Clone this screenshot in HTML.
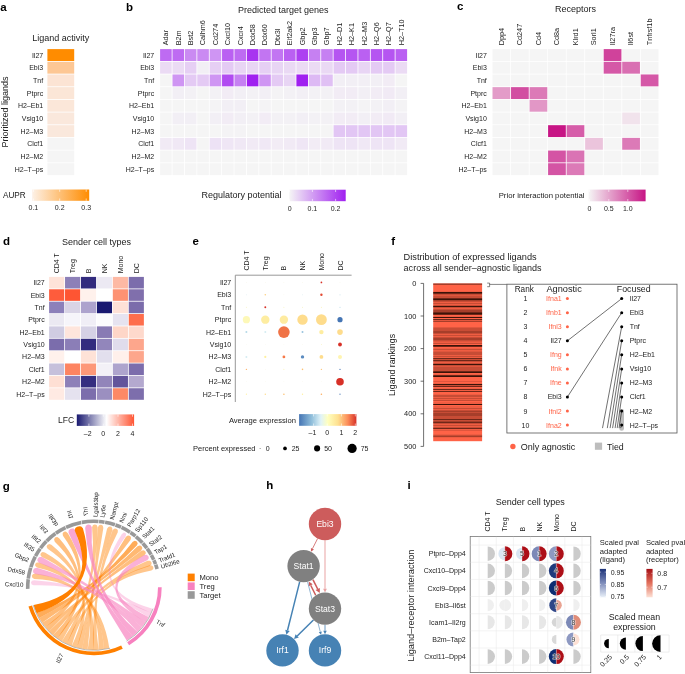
<!DOCTYPE html>
<html><head><meta charset="utf-8"><title>Figure</title>
<style>html,body{margin:0;padding:0;background:#fff}svg{display:block}text{font-family:"Liberation Sans",sans-serif}</style>
</head><body>
<svg width="685" height="674" viewBox="0 0 685 674">
<g fill="#222">
<text x="0.30" y="10.60" font-size="11.5" font-weight="bold" fill="#000">a</text>
<text x="126.00" y="10.60" font-size="11.5" font-weight="bold" fill="#000">b</text>
<text x="457.00" y="10.20" font-size="11.5" font-weight="bold" fill="#000">c</text>
<text x="60.80" y="40.50" font-size="9" text-anchor="middle">Ligand activity</text>
<text x="7.80" y="112.00" font-size="9" text-anchor="middle" transform="rotate(-90.00 7.80 112.00)">Prioritized ligands</text>
<text x="43.20" y="57.54" font-size="7" text-anchor="end">Il27</text>
<rect x="47.40" y="49.10" width="26.80" height="11.88" fill="#ff8c00" />
<text x="43.20" y="70.22" font-size="7" text-anchor="end">Ebi3</text>
<rect x="47.40" y="61.78" width="26.80" height="11.88" fill="#fdc794" />
<text x="43.20" y="82.90" font-size="7" text-anchor="end">Tnf</text>
<rect x="47.40" y="74.46" width="26.80" height="11.88" fill="#fce4d4" />
<text x="43.20" y="95.58" font-size="7" text-anchor="end">Ptprc</text>
<rect x="47.40" y="87.14" width="26.80" height="11.88" fill="#fbe6d7" />
<text x="43.20" y="108.26" font-size="7" text-anchor="end">H2–Eb1</text>
<rect x="47.40" y="99.82" width="26.80" height="11.88" fill="#fbe7d9" />
<text x="43.20" y="120.94" font-size="7" text-anchor="end">Vsig10</text>
<rect x="47.40" y="112.50" width="26.80" height="11.88" fill="#fae8dc" />
<text x="43.20" y="133.62" font-size="7" text-anchor="end">H2–M3</text>
<rect x="47.40" y="125.18" width="26.80" height="11.88" fill="#fae8dc" />
<text x="43.20" y="146.30" font-size="7" text-anchor="end">Clcf1</text>
<rect x="47.40" y="137.86" width="26.80" height="11.88" fill="#f5f5f5" />
<text x="43.20" y="158.98" font-size="7" text-anchor="end">H2–M2</text>
<rect x="47.40" y="150.54" width="26.80" height="11.88" fill="#f5f5f5" />
<text x="43.20" y="171.66" font-size="7" text-anchor="end">H2–T–ps</text>
<rect x="47.40" y="163.22" width="26.80" height="11.88" fill="#f5f5f5" />
<defs><linearGradient id="ga"><stop offset="0" stop-color="#fdf1e6"/><stop offset="1" stop-color="#ff8c00"/></linearGradient><linearGradient id="gb"><stop offset="0" stop-color="#f5f5f5"/><stop offset="1" stop-color="#a020f0"/></linearGradient><linearGradient id="gc"><stop offset="0" stop-color="#f5f5f5"/><stop offset="1" stop-color="#c71585"/></linearGradient></defs>
<text x="3.00" y="197.80" font-size="8.2">AUPR</text>
<rect x="32.20" y="189.50" width="57.00" height="11.30" fill="url(#ga)" />
<path d="M33.4 189.5v2.3M33.4 200.8v-2.3" stroke="#fff" stroke-width="0.6"/>
<text x="33.40" y="210.20" font-size="7" text-anchor="middle">0.1</text>
<path d="M59.7 189.5v2.3M59.7 200.8v-2.3" stroke="#fff" stroke-width="0.6"/>
<text x="59.70" y="210.20" font-size="7" text-anchor="middle">0.2</text>
<path d="M86.2 189.5v2.3M86.2 200.8v-2.3" stroke="#fff" stroke-width="0.6"/>
<text x="86.20" y="210.20" font-size="7" text-anchor="middle">0.3</text>
<text x="283.20" y="13.40" font-size="9" text-anchor="middle">Predicted target genes</text>
<text x="154.20" y="57.54" font-size="7" text-anchor="end">Il27</text>
<rect x="160.10" y="49.10" width="11.59" height="11.88" fill="#be6bf2" />
<rect x="172.49" y="49.10" width="11.59" height="11.88" fill="#be6bf2" />
<rect x="184.88" y="49.10" width="11.59" height="11.88" fill="#ca8af2" />
<rect x="197.27" y="49.10" width="11.59" height="11.88" fill="#ca8af2" />
<rect x="209.66" y="49.10" width="11.59" height="11.88" fill="#cf95f3" />
<rect x="222.05" y="49.10" width="11.59" height="11.88" fill="#ba60f2" />
<rect x="234.44" y="49.10" width="11.59" height="11.88" fill="#be6bf2" />
<rect x="246.83" y="49.10" width="11.59" height="11.88" fill="#a835f0" />
<rect x="259.22" y="49.10" width="11.59" height="11.88" fill="#c275f2" />
<rect x="271.61" y="49.10" width="11.59" height="11.88" fill="#c275f2" />
<rect x="284.00" y="49.10" width="11.59" height="11.88" fill="#ba60f2" />
<rect x="296.39" y="49.10" width="11.59" height="11.88" fill="#ad40f1" />
<rect x="308.78" y="49.10" width="11.59" height="11.88" fill="#c680f2" />
<rect x="321.17" y="49.10" width="11.59" height="11.88" fill="#c680f2" />
<rect x="333.56" y="49.10" width="11.59" height="11.88" fill="#b555f1" />
<rect x="345.95" y="49.10" width="11.59" height="11.88" fill="#b555f1" />
<rect x="358.34" y="49.10" width="11.59" height="11.88" fill="#ba60f2" />
<rect x="370.73" y="49.10" width="11.59" height="11.88" fill="#b555f1" />
<rect x="383.12" y="49.10" width="11.59" height="11.88" fill="#b555f1" />
<rect x="395.51" y="49.10" width="11.59" height="11.88" fill="#ba60f2" />
<text x="154.20" y="70.22" font-size="7" text-anchor="end">Ebi3</text>
<rect x="160.10" y="61.78" width="11.59" height="11.88" fill="#ebdbf4" />
<rect x="172.49" y="61.78" width="11.59" height="11.88" fill="#ebdbf4" />
<rect x="184.88" y="61.78" width="11.59" height="11.88" fill="#e6cff4" />
<rect x="197.27" y="61.78" width="11.59" height="11.88" fill="#f2eff5" />
<rect x="209.66" y="61.78" width="11.59" height="11.88" fill="#e6cff4" />
<rect x="222.05" y="61.78" width="11.59" height="11.88" fill="#e4caf4" />
<rect x="234.44" y="61.78" width="11.59" height="11.88" fill="#e8d5f4" />
<rect x="246.83" y="61.78" width="11.59" height="11.88" fill="#e8d5f4" />
<rect x="259.22" y="61.78" width="11.59" height="11.88" fill="#e6cff4" />
<rect x="271.61" y="61.78" width="11.59" height="11.88" fill="#e8d5f4" />
<rect x="284.00" y="61.78" width="11.59" height="11.88" fill="#ead9f4" />
<rect x="296.39" y="61.78" width="11.59" height="11.88" fill="#ebdbf4" />
<rect x="308.78" y="61.78" width="11.59" height="11.88" fill="#ebdbf4" />
<rect x="321.17" y="61.78" width="11.59" height="11.88" fill="#ead9f4" />
<rect x="333.56" y="61.78" width="11.59" height="11.88" fill="#e4caf4" />
<rect x="345.95" y="61.78" width="11.59" height="11.88" fill="#e4caf4" />
<rect x="358.34" y="61.78" width="11.59" height="11.88" fill="#e8d5f4" />
<rect x="370.73" y="61.78" width="11.59" height="11.88" fill="#e4caf4" />
<rect x="383.12" y="61.78" width="11.59" height="11.88" fill="#e4caf4" />
<rect x="395.51" y="61.78" width="11.59" height="11.88" fill="#ebdbf4" />
<text x="154.20" y="82.90" font-size="7" text-anchor="end">Tnf</text>
<rect x="160.10" y="74.46" width="11.59" height="11.88" fill="#f5f5f5" />
<rect x="172.49" y="74.46" width="11.59" height="11.88" fill="#cf95f3" />
<rect x="184.88" y="74.46" width="11.59" height="11.88" fill="#e4caf4" />
<rect x="197.27" y="74.46" width="11.59" height="11.88" fill="#e4caf4" />
<rect x="209.66" y="74.46" width="11.59" height="11.88" fill="#cf95f3" />
<rect x="222.05" y="74.46" width="11.59" height="11.88" fill="#b14bf1" />
<rect x="234.44" y="74.46" width="11.59" height="11.88" fill="#c680f2" />
<rect x="246.83" y="74.46" width="11.59" height="11.88" fill="#a020f0" />
<rect x="259.22" y="74.46" width="11.59" height="11.88" fill="#cf95f3" />
<rect x="271.61" y="74.46" width="11.59" height="11.88" fill="#e4caf4" />
<rect x="284.00" y="74.46" width="11.59" height="11.88" fill="#e8d5f4" />
<rect x="296.39" y="74.46" width="11.59" height="11.88" fill="#a020f0" />
<rect x="308.78" y="74.46" width="11.59" height="11.88" fill="#ddb9f4" />
<rect x="321.17" y="74.46" width="11.59" height="11.88" fill="#e0c0f4" />
<rect x="333.56" y="74.46" width="11.59" height="11.88" fill="#f2eff5" />
<rect x="345.95" y="74.46" width="11.59" height="11.88" fill="#f2eff5" />
<rect x="358.34" y="74.46" width="11.59" height="11.88" fill="#f2eff5" />
<rect x="370.73" y="74.46" width="11.59" height="11.88" fill="#f2eff5" />
<rect x="383.12" y="74.46" width="11.59" height="11.88" fill="#f2ecf5" />
<rect x="395.51" y="74.46" width="11.59" height="11.88" fill="#f5f5f5" />
<text x="154.20" y="95.58" font-size="7" text-anchor="end">Ptprc</text>
<rect x="160.10" y="87.14" width="11.59" height="11.88" fill="#f5f5f5" />
<rect x="172.49" y="87.14" width="11.59" height="11.88" fill="#f2eff5" />
<rect x="184.88" y="87.14" width="11.59" height="11.88" fill="#f3f1f5" />
<rect x="197.27" y="87.14" width="11.59" height="11.88" fill="#f5f5f5" />
<rect x="209.66" y="87.14" width="11.59" height="11.88" fill="#f3f1f5" />
<rect x="222.05" y="87.14" width="11.59" height="11.88" fill="#f2ecf5" />
<rect x="234.44" y="87.14" width="11.59" height="11.88" fill="#f2eff5" />
<rect x="246.83" y="87.14" width="11.59" height="11.88" fill="#f3f1f5" />
<rect x="259.22" y="87.14" width="11.59" height="11.88" fill="#f2eff5" />
<rect x="271.61" y="87.14" width="11.59" height="11.88" fill="#f4f3f5" />
<rect x="284.00" y="87.14" width="11.59" height="11.88" fill="#f3f1f5" />
<rect x="296.39" y="87.14" width="11.59" height="11.88" fill="#f2eff5" />
<rect x="308.78" y="87.14" width="11.59" height="11.88" fill="#f3f1f5" />
<rect x="321.17" y="87.14" width="11.59" height="11.88" fill="#f3f1f5" />
<rect x="333.56" y="87.14" width="11.59" height="11.88" fill="#f2ecf5" />
<rect x="345.95" y="87.14" width="11.59" height="11.88" fill="#f2ecf5" />
<rect x="358.34" y="87.14" width="11.59" height="11.88" fill="#f2eff5" />
<rect x="370.73" y="87.14" width="11.59" height="11.88" fill="#f2ecf5" />
<rect x="383.12" y="87.14" width="11.59" height="11.88" fill="#f1eaf5" />
<rect x="395.51" y="87.14" width="11.59" height="11.88" fill="#f2eff5" />
<text x="154.20" y="108.26" font-size="7" text-anchor="end">H2–Eb1</text>
<rect x="160.10" y="99.82" width="11.59" height="11.88" fill="#f5f5f5" />
<rect x="172.49" y="99.82" width="11.59" height="11.88" fill="#f5f5f5" />
<rect x="184.88" y="99.82" width="11.59" height="11.88" fill="#f5f5f5" />
<rect x="197.27" y="99.82" width="11.59" height="11.88" fill="#f5f5f5" />
<rect x="209.66" y="99.82" width="11.59" height="11.88" fill="#f4f3f5" />
<rect x="222.05" y="99.82" width="11.59" height="11.88" fill="#f2eff5" />
<rect x="234.44" y="99.82" width="11.59" height="11.88" fill="#f2eff5" />
<rect x="246.83" y="99.82" width="11.59" height="11.88" fill="#f5f5f5" />
<rect x="259.22" y="99.82" width="11.59" height="11.88" fill="#f4f3f5" />
<rect x="271.61" y="99.82" width="11.59" height="11.88" fill="#f5f5f5" />
<rect x="284.00" y="99.82" width="11.59" height="11.88" fill="#f5f5f5" />
<rect x="296.39" y="99.82" width="11.59" height="11.88" fill="#f5f5f5" />
<rect x="308.78" y="99.82" width="11.59" height="11.88" fill="#f5f5f5" />
<rect x="321.17" y="99.82" width="11.59" height="11.88" fill="#f5f5f5" />
<rect x="333.56" y="99.82" width="11.59" height="11.88" fill="#f3f1f5" />
<rect x="345.95" y="99.82" width="11.59" height="11.88" fill="#f3f1f5" />
<rect x="358.34" y="99.82" width="11.59" height="11.88" fill="#f4f3f5" />
<rect x="370.73" y="99.82" width="11.59" height="11.88" fill="#f3f1f5" />
<rect x="383.12" y="99.82" width="11.59" height="11.88" fill="#f2eff5" />
<rect x="395.51" y="99.82" width="11.59" height="11.88" fill="#f4f3f5" />
<text x="154.20" y="120.94" font-size="7" text-anchor="end">Vsig10</text>
<rect x="160.10" y="112.50" width="11.59" height="11.88" fill="#f5f5f5" />
<rect x="172.49" y="112.50" width="11.59" height="11.88" fill="#f2eff5" />
<rect x="184.88" y="112.50" width="11.59" height="11.88" fill="#f2eff5" />
<rect x="197.27" y="112.50" width="11.59" height="11.88" fill="#f5f5f5" />
<rect x="209.66" y="112.50" width="11.59" height="11.88" fill="#f2eff5" />
<rect x="222.05" y="112.50" width="11.59" height="11.88" fill="#f2ecf5" />
<rect x="234.44" y="112.50" width="11.59" height="11.88" fill="#f2eff5" />
<rect x="246.83" y="112.50" width="11.59" height="11.88" fill="#f3f1f5" />
<rect x="259.22" y="112.50" width="11.59" height="11.88" fill="#f2ecf5" />
<rect x="271.61" y="112.50" width="11.59" height="11.88" fill="#f3f1f5" />
<rect x="284.00" y="112.50" width="11.59" height="11.88" fill="#f3f1f5" />
<rect x="296.39" y="112.50" width="11.59" height="11.88" fill="#f2eff5" />
<rect x="308.78" y="112.50" width="11.59" height="11.88" fill="#f3f1f5" />
<rect x="321.17" y="112.50" width="11.59" height="11.88" fill="#f3f1f5" />
<rect x="333.56" y="112.50" width="11.59" height="11.88" fill="#f2ecf5" />
<rect x="345.95" y="112.50" width="11.59" height="11.88" fill="#f2ecf5" />
<rect x="358.34" y="112.50" width="11.59" height="11.88" fill="#f2eff5" />
<rect x="370.73" y="112.50" width="11.59" height="11.88" fill="#f2ecf5" />
<rect x="383.12" y="112.50" width="11.59" height="11.88" fill="#f1eaf5" />
<rect x="395.51" y="112.50" width="11.59" height="11.88" fill="#f2eff5" />
<text x="154.20" y="133.62" font-size="7" text-anchor="end">H2–M3</text>
<rect x="160.10" y="125.18" width="11.59" height="11.88" fill="#f5f5f5" />
<rect x="172.49" y="125.18" width="11.59" height="11.88" fill="#f5f5f5" />
<rect x="184.88" y="125.18" width="11.59" height="11.88" fill="#f5f5f5" />
<rect x="197.27" y="125.18" width="11.59" height="11.88" fill="#f5f5f5" />
<rect x="209.66" y="125.18" width="11.59" height="11.88" fill="#f5f5f5" />
<rect x="222.05" y="125.18" width="11.59" height="11.88" fill="#f4f3f5" />
<rect x="234.44" y="125.18" width="11.59" height="11.88" fill="#f4f3f5" />
<rect x="246.83" y="125.18" width="11.59" height="11.88" fill="#f5f5f5" />
<rect x="259.22" y="125.18" width="11.59" height="11.88" fill="#f5f5f5" />
<rect x="271.61" y="125.18" width="11.59" height="11.88" fill="#f5f5f5" />
<rect x="284.00" y="125.18" width="11.59" height="11.88" fill="#f5f5f5" />
<rect x="296.39" y="125.18" width="11.59" height="11.88" fill="#f5f5f5" />
<rect x="308.78" y="125.18" width="11.59" height="11.88" fill="#f5f5f5" />
<rect x="321.17" y="125.18" width="11.59" height="11.88" fill="#f5f5f5" />
<rect x="333.56" y="125.18" width="11.59" height="11.88" fill="#e2c6f4" />
<rect x="345.95" y="125.18" width="11.59" height="11.88" fill="#e2c6f4" />
<rect x="358.34" y="125.18" width="11.59" height="11.88" fill="#e2c6f4" />
<rect x="370.73" y="125.18" width="11.59" height="11.88" fill="#e2c6f4" />
<rect x="383.12" y="125.18" width="11.59" height="11.88" fill="#e2c6f4" />
<rect x="395.51" y="125.18" width="11.59" height="11.88" fill="#e2c6f4" />
<text x="154.20" y="146.30" font-size="7" text-anchor="end">Clcf1</text>
<rect x="160.10" y="137.86" width="11.59" height="11.88" fill="#f1eaf5" />
<rect x="172.49" y="137.86" width="11.59" height="11.88" fill="#f0e8f5" />
<rect x="184.88" y="137.86" width="11.59" height="11.88" fill="#eee4f5" />
<rect x="197.27" y="137.86" width="11.59" height="11.88" fill="#f5f5f5" />
<rect x="209.66" y="137.86" width="11.59" height="11.88" fill="#ede2f5" />
<rect x="222.05" y="137.86" width="11.59" height="11.88" fill="#efe6f5" />
<rect x="234.44" y="137.86" width="11.59" height="11.88" fill="#f0e8f5" />
<rect x="246.83" y="137.86" width="11.59" height="11.88" fill="#f1eaf5" />
<rect x="259.22" y="137.86" width="11.59" height="11.88" fill="#f0e8f5" />
<rect x="271.61" y="137.86" width="11.59" height="11.88" fill="#f2ecf5" />
<rect x="284.00" y="137.86" width="11.59" height="11.88" fill="#f1eaf5" />
<rect x="296.39" y="137.86" width="11.59" height="11.88" fill="#efe6f5" />
<rect x="308.78" y="137.86" width="11.59" height="11.88" fill="#f2ecf5" />
<rect x="321.17" y="137.86" width="11.59" height="11.88" fill="#f1eaf5" />
<rect x="333.56" y="137.86" width="11.59" height="11.88" fill="#eee4f5" />
<rect x="345.95" y="137.86" width="11.59" height="11.88" fill="#eee4f5" />
<rect x="358.34" y="137.86" width="11.59" height="11.88" fill="#f0e8f5" />
<rect x="370.73" y="137.86" width="11.59" height="11.88" fill="#eee4f5" />
<rect x="383.12" y="137.86" width="11.59" height="11.88" fill="#eee4f5" />
<rect x="395.51" y="137.86" width="11.59" height="11.88" fill="#f1eaf5" />
<text x="154.20" y="158.98" font-size="7" text-anchor="end">H2–M2</text>
<rect x="160.10" y="150.54" width="11.59" height="11.88" fill="#f5f5f5" />
<rect x="172.49" y="150.54" width="11.59" height="11.88" fill="#f5f5f5" />
<rect x="184.88" y="150.54" width="11.59" height="11.88" fill="#f5f5f5" />
<rect x="197.27" y="150.54" width="11.59" height="11.88" fill="#f5f5f5" />
<rect x="209.66" y="150.54" width="11.59" height="11.88" fill="#f5f5f5" />
<rect x="222.05" y="150.54" width="11.59" height="11.88" fill="#f5f5f5" />
<rect x="234.44" y="150.54" width="11.59" height="11.88" fill="#f5f5f5" />
<rect x="246.83" y="150.54" width="11.59" height="11.88" fill="#f5f5f5" />
<rect x="259.22" y="150.54" width="11.59" height="11.88" fill="#f5f5f5" />
<rect x="271.61" y="150.54" width="11.59" height="11.88" fill="#f5f5f5" />
<rect x="284.00" y="150.54" width="11.59" height="11.88" fill="#f5f5f5" />
<rect x="296.39" y="150.54" width="11.59" height="11.88" fill="#f5f5f5" />
<rect x="308.78" y="150.54" width="11.59" height="11.88" fill="#f5f5f5" />
<rect x="321.17" y="150.54" width="11.59" height="11.88" fill="#f5f5f5" />
<rect x="333.56" y="150.54" width="11.59" height="11.88" fill="#f5f5f5" />
<rect x="345.95" y="150.54" width="11.59" height="11.88" fill="#f5f5f5" />
<rect x="358.34" y="150.54" width="11.59" height="11.88" fill="#f5f5f5" />
<rect x="370.73" y="150.54" width="11.59" height="11.88" fill="#f5f5f5" />
<rect x="383.12" y="150.54" width="11.59" height="11.88" fill="#f5f5f5" />
<rect x="395.51" y="150.54" width="11.59" height="11.88" fill="#f5f5f5" />
<text x="154.20" y="171.66" font-size="7" text-anchor="end">H2–T–ps</text>
<rect x="160.10" y="163.22" width="11.59" height="11.88" fill="#f5f5f5" />
<rect x="172.49" y="163.22" width="11.59" height="11.88" fill="#f5f5f5" />
<rect x="184.88" y="163.22" width="11.59" height="11.88" fill="#f5f5f5" />
<rect x="197.27" y="163.22" width="11.59" height="11.88" fill="#f5f5f5" />
<rect x="209.66" y="163.22" width="11.59" height="11.88" fill="#f5f5f5" />
<rect x="222.05" y="163.22" width="11.59" height="11.88" fill="#f5f5f5" />
<rect x="234.44" y="163.22" width="11.59" height="11.88" fill="#f5f5f5" />
<rect x="246.83" y="163.22" width="11.59" height="11.88" fill="#f5f5f5" />
<rect x="259.22" y="163.22" width="11.59" height="11.88" fill="#f5f5f5" />
<rect x="271.61" y="163.22" width="11.59" height="11.88" fill="#f5f5f5" />
<rect x="284.00" y="163.22" width="11.59" height="11.88" fill="#f5f5f5" />
<rect x="296.39" y="163.22" width="11.59" height="11.88" fill="#f5f5f5" />
<rect x="308.78" y="163.22" width="11.59" height="11.88" fill="#f5f5f5" />
<rect x="321.17" y="163.22" width="11.59" height="11.88" fill="#f5f5f5" />
<rect x="333.56" y="163.22" width="11.59" height="11.88" fill="#f5f5f5" />
<rect x="345.95" y="163.22" width="11.59" height="11.88" fill="#f5f5f5" />
<rect x="358.34" y="163.22" width="11.59" height="11.88" fill="#f5f5f5" />
<rect x="370.73" y="163.22" width="11.59" height="11.88" fill="#f5f5f5" />
<rect x="383.12" y="163.22" width="11.59" height="11.88" fill="#f5f5f5" />
<rect x="395.51" y="163.22" width="11.59" height="11.88" fill="#f5f5f5" />
<text x="168.29" y="45.30" font-size="7.3" transform="rotate(-90.00 168.29 45.30)">Adar</text>
<text x="180.68" y="45.30" font-size="7.3" transform="rotate(-90.00 180.68 45.30)">B2m</text>
<text x="193.07" y="45.30" font-size="7.3" transform="rotate(-90.00 193.07 45.30)">Bst2</text>
<text x="205.47" y="45.30" font-size="7.3" transform="rotate(-90.00 205.47 45.30)">Calhm6</text>
<text x="217.85" y="45.30" font-size="7.3" transform="rotate(-90.00 217.85 45.30)">Cd274</text>
<text x="230.24" y="45.30" font-size="7.3" transform="rotate(-90.00 230.24 45.30)">Cxcl10</text>
<text x="242.63" y="45.30" font-size="7.3" transform="rotate(-90.00 242.63 45.30)">Cxcr4</text>
<text x="255.03" y="45.30" font-size="7.3" transform="rotate(-90.00 255.03 45.30)">Ddx58</text>
<text x="267.41" y="45.30" font-size="7.3" transform="rotate(-90.00 267.41 45.30)">Ddx60</text>
<text x="279.80" y="45.30" font-size="7.3" transform="rotate(-90.00 279.80 45.30)">Dtx3l</text>
<text x="292.19" y="45.30" font-size="7.3" transform="rotate(-90.00 292.19 45.30)">Eif2ak2</text>
<text x="304.58" y="45.30" font-size="7.3" transform="rotate(-90.00 304.58 45.30)">Gbp2</text>
<text x="316.97" y="45.30" font-size="7.3" transform="rotate(-90.00 316.97 45.30)">Gbp3</text>
<text x="329.36" y="45.30" font-size="7.3" transform="rotate(-90.00 329.36 45.30)">Gbp7</text>
<text x="341.75" y="45.30" font-size="7.3" transform="rotate(-90.00 341.75 45.30)">H2–D1</text>
<text x="354.14" y="45.30" font-size="7.3" transform="rotate(-90.00 354.14 45.30)">H2–K1</text>
<text x="366.53" y="45.30" font-size="7.3" transform="rotate(-90.00 366.53 45.30)">H2–M3</text>
<text x="378.92" y="45.30" font-size="7.3" transform="rotate(-90.00 378.92 45.30)">H2–Q6</text>
<text x="391.31" y="45.30" font-size="7.3" transform="rotate(-90.00 391.31 45.30)">H2–Q7</text>
<text x="403.70" y="45.30" font-size="7.3" transform="rotate(-90.00 403.70 45.30)">H2–T10</text>
<text x="201.40" y="197.80" font-size="9">Regulatory potential</text>
<rect x="289.30" y="189.70" width="56.40" height="11.50" fill="url(#gb)" />
<path d="M289.6 189.7v2.3M289.6 201.2v-2.3" stroke="#fff" stroke-width="0.6"/>
<text x="289.60" y="211.20" font-size="7" text-anchor="middle">0</text>
<path d="M312.4 189.7v2.3M312.4 201.2v-2.3" stroke="#fff" stroke-width="0.6"/>
<text x="312.40" y="211.20" font-size="7" text-anchor="middle">0.1</text>
<path d="M335.6 189.7v2.3M335.6 201.2v-2.3" stroke="#fff" stroke-width="0.6"/>
<text x="335.60" y="211.20" font-size="7" text-anchor="middle">0.2</text>
<text x="575.50" y="11.80" font-size="9" text-anchor="middle">Receptors</text>
<text x="486.80" y="57.54" font-size="7" text-anchor="end">Il27</text>
<rect x="492.50" y="49.10" width="17.73" height="11.88" fill="#f5f5f5" />
<rect x="511.03" y="49.10" width="17.73" height="11.88" fill="#f5f5f5" />
<rect x="529.56" y="49.10" width="17.73" height="11.88" fill="#f5f5f5" />
<rect x="548.09" y="49.10" width="17.73" height="11.88" fill="#f5f5f5" />
<rect x="566.62" y="49.10" width="17.73" height="11.88" fill="#f5f5f5" />
<rect x="585.15" y="49.10" width="17.73" height="11.88" fill="#f5f5f5" />
<rect x="603.68" y="49.10" width="17.73" height="11.88" fill="#d0429b" />
<rect x="622.21" y="49.10" width="17.73" height="11.88" fill="#f5f5f5" />
<rect x="640.74" y="49.10" width="17.73" height="11.88" fill="#f5f5f5" />
<text x="486.80" y="70.22" font-size="7" text-anchor="end">Ebi3</text>
<rect x="492.50" y="61.78" width="17.73" height="11.88" fill="#f5f5f5" />
<rect x="511.03" y="61.78" width="17.73" height="11.88" fill="#f5f5f5" />
<rect x="529.56" y="61.78" width="17.73" height="11.88" fill="#f5f5f5" />
<rect x="548.09" y="61.78" width="17.73" height="11.88" fill="#f5f5f5" />
<rect x="566.62" y="61.78" width="17.73" height="11.88" fill="#f5f5f5" />
<rect x="585.15" y="61.78" width="17.73" height="11.88" fill="#f5f5f5" />
<rect x="603.68" y="61.78" width="17.73" height="11.88" fill="#d558a7" />
<rect x="622.21" y="61.78" width="17.73" height="11.88" fill="#d96fb2" />
<rect x="640.74" y="61.78" width="17.73" height="11.88" fill="#f5f5f5" />
<text x="486.80" y="82.90" font-size="7" text-anchor="end">Tnf</text>
<rect x="492.50" y="74.46" width="17.73" height="11.88" fill="#f5f5f5" />
<rect x="511.03" y="74.46" width="17.73" height="11.88" fill="#f5f5f5" />
<rect x="529.56" y="74.46" width="17.73" height="11.88" fill="#f5f5f5" />
<rect x="548.09" y="74.46" width="17.73" height="11.88" fill="#f5f5f5" />
<rect x="566.62" y="74.46" width="17.73" height="11.88" fill="#f5f5f5" />
<rect x="585.15" y="74.46" width="17.73" height="11.88" fill="#f5f5f5" />
<rect x="603.68" y="74.46" width="17.73" height="11.88" fill="#f5f5f5" />
<rect x="622.21" y="74.46" width="17.73" height="11.88" fill="#f5f5f5" />
<rect x="640.74" y="74.46" width="17.73" height="11.88" fill="#d558a7" />
<text x="486.80" y="95.58" font-size="7" text-anchor="end">Ptprc</text>
<rect x="492.50" y="87.14" width="17.73" height="11.88" fill="#e39bc8" />
<rect x="511.03" y="87.14" width="17.73" height="11.88" fill="#d24da1" />
<rect x="529.56" y="87.14" width="17.73" height="11.88" fill="#dc7ab7" />
<rect x="548.09" y="87.14" width="17.73" height="11.88" fill="#f5f5f5" />
<rect x="566.62" y="87.14" width="17.73" height="11.88" fill="#f5f5f5" />
<rect x="585.15" y="87.14" width="17.73" height="11.88" fill="#f5f5f5" />
<rect x="603.68" y="87.14" width="17.73" height="11.88" fill="#f5f5f5" />
<rect x="622.21" y="87.14" width="17.73" height="11.88" fill="#f5f5f5" />
<rect x="640.74" y="87.14" width="17.73" height="11.88" fill="#f5f5f5" />
<text x="486.80" y="108.26" font-size="7" text-anchor="end">H2–Eb1</text>
<rect x="492.50" y="99.82" width="17.73" height="11.88" fill="#f5f5f5" />
<rect x="511.03" y="99.82" width="17.73" height="11.88" fill="#f5f5f5" />
<rect x="529.56" y="99.82" width="17.73" height="11.88" fill="#e297c6" />
<rect x="548.09" y="99.82" width="17.73" height="11.88" fill="#f5f5f5" />
<rect x="566.62" y="99.82" width="17.73" height="11.88" fill="#f5f5f5" />
<rect x="585.15" y="99.82" width="17.73" height="11.88" fill="#f5f5f5" />
<rect x="603.68" y="99.82" width="17.73" height="11.88" fill="#f5f5f5" />
<rect x="622.21" y="99.82" width="17.73" height="11.88" fill="#f5f5f5" />
<rect x="640.74" y="99.82" width="17.73" height="11.88" fill="#f5f5f5" />
<text x="486.80" y="120.94" font-size="7" text-anchor="end">Vsig10</text>
<rect x="492.50" y="112.50" width="17.73" height="11.88" fill="#f5f5f5" />
<rect x="511.03" y="112.50" width="17.73" height="11.88" fill="#f5f5f5" />
<rect x="529.56" y="112.50" width="17.73" height="11.88" fill="#f5f5f5" />
<rect x="548.09" y="112.50" width="17.73" height="11.88" fill="#f5f5f5" />
<rect x="566.62" y="112.50" width="17.73" height="11.88" fill="#f5f5f5" />
<rect x="585.15" y="112.50" width="17.73" height="11.88" fill="#f5f5f5" />
<rect x="603.68" y="112.50" width="17.73" height="11.88" fill="#f5f5f5" />
<rect x="622.21" y="112.50" width="17.73" height="11.88" fill="#f1e3ec" />
<rect x="640.74" y="112.50" width="17.73" height="11.88" fill="#f5f5f5" />
<text x="486.80" y="133.62" font-size="7" text-anchor="end">H2–M3</text>
<rect x="492.50" y="125.18" width="17.73" height="11.88" fill="#f5f5f5" />
<rect x="511.03" y="125.18" width="17.73" height="11.88" fill="#f5f5f5" />
<rect x="529.56" y="125.18" width="17.73" height="11.88" fill="#f5f5f5" />
<rect x="548.09" y="125.18" width="17.73" height="11.88" fill="#c71585" />
<rect x="566.62" y="125.18" width="17.73" height="11.88" fill="#d65da9" />
<rect x="585.15" y="125.18" width="17.73" height="11.88" fill="#f5f5f5" />
<rect x="603.68" y="125.18" width="17.73" height="11.88" fill="#f5f5f5" />
<rect x="622.21" y="125.18" width="17.73" height="11.88" fill="#f5f5f5" />
<rect x="640.74" y="125.18" width="17.73" height="11.88" fill="#f5f5f5" />
<text x="486.80" y="146.30" font-size="7" text-anchor="end">Clcf1</text>
<rect x="492.50" y="137.86" width="17.73" height="11.88" fill="#f5f5f5" />
<rect x="511.03" y="137.86" width="17.73" height="11.88" fill="#f5f5f5" />
<rect x="529.56" y="137.86" width="17.73" height="11.88" fill="#f5f5f5" />
<rect x="548.09" y="137.86" width="17.73" height="11.88" fill="#f5f5f5" />
<rect x="566.62" y="137.86" width="17.73" height="11.88" fill="#f5f5f5" />
<rect x="585.15" y="137.86" width="17.73" height="11.88" fill="#ebc4dc" />
<rect x="603.68" y="137.86" width="17.73" height="11.88" fill="#f5f5f5" />
<rect x="622.21" y="137.86" width="17.73" height="11.88" fill="#dc7ab7" />
<rect x="640.74" y="137.86" width="17.73" height="11.88" fill="#f5f5f5" />
<text x="486.80" y="158.98" font-size="7" text-anchor="end">H2–M2</text>
<rect x="492.50" y="150.54" width="17.73" height="11.88" fill="#f5f5f5" />
<rect x="511.03" y="150.54" width="17.73" height="11.88" fill="#f5f5f5" />
<rect x="529.56" y="150.54" width="17.73" height="11.88" fill="#f5f5f5" />
<rect x="548.09" y="150.54" width="17.73" height="11.88" fill="#d454a4" />
<rect x="566.62" y="150.54" width="17.73" height="11.88" fill="#da73b4" />
<rect x="585.15" y="150.54" width="17.73" height="11.88" fill="#f5f5f5" />
<rect x="603.68" y="150.54" width="17.73" height="11.88" fill="#f5f5f5" />
<rect x="622.21" y="150.54" width="17.73" height="11.88" fill="#f5f5f5" />
<rect x="640.74" y="150.54" width="17.73" height="11.88" fill="#f5f5f5" />
<text x="486.80" y="171.66" font-size="7" text-anchor="end">H2–T–ps</text>
<rect x="492.50" y="163.22" width="17.73" height="11.88" fill="#f5f5f5" />
<rect x="511.03" y="163.22" width="17.73" height="11.88" fill="#f5f5f5" />
<rect x="529.56" y="163.22" width="17.73" height="11.88" fill="#f5f5f5" />
<rect x="548.09" y="163.22" width="17.73" height="11.88" fill="#d454a4" />
<rect x="566.62" y="163.22" width="17.73" height="11.88" fill="#dc7ab7" />
<rect x="585.15" y="163.22" width="17.73" height="11.88" fill="#f5f5f5" />
<rect x="603.68" y="163.22" width="17.73" height="11.88" fill="#f5f5f5" />
<rect x="622.21" y="163.22" width="17.73" height="11.88" fill="#f5f5f5" />
<rect x="640.74" y="163.22" width="17.73" height="11.88" fill="#f5f5f5" />
<text x="503.76" y="45.30" font-size="7.3" transform="rotate(-90.00 503.76 45.30)">Dpp4</text>
<text x="522.29" y="45.30" font-size="7.3" transform="rotate(-90.00 522.29 45.30)">Cd247</text>
<text x="540.83" y="45.30" font-size="7.3" transform="rotate(-90.00 540.83 45.30)">Cd4</text>
<text x="559.36" y="45.30" font-size="7.3" transform="rotate(-90.00 559.36 45.30)">Cd8a</text>
<text x="577.88" y="45.30" font-size="7.3" transform="rotate(-90.00 577.88 45.30)">Klrd1</text>
<text x="596.41" y="45.30" font-size="7.3" transform="rotate(-90.00 596.41 45.30)">Sorl1</text>
<text x="614.94" y="45.30" font-size="7.3" transform="rotate(-90.00 614.94 45.30)">Il27ra</text>
<text x="633.48" y="45.30" font-size="7.3" transform="rotate(-90.00 633.48 45.30)">Il6st</text>
<text x="652.00" y="45.30" font-size="7.3" transform="rotate(-90.00 652.00 45.30)">Tnfrsf1b</text>
<text x="498.70" y="197.80" font-size="7.75">Prior interaction potential</text>
<rect x="588.60" y="189.60" width="57.00" height="11.70" fill="url(#gc)" />
<path d="M589.5 189.6v2.3M589.5 201.3v-2.3" stroke="#fff" stroke-width="0.6"/>
<text x="589.50" y="210.60" font-size="7" text-anchor="middle">0</text>
<path d="M608.8 189.6v2.3M608.8 201.3v-2.3" stroke="#fff" stroke-width="0.6"/>
<text x="608.80" y="210.60" font-size="7" text-anchor="middle">0.5</text>
<path d="M627.8 189.6v2.3M627.8 201.3v-2.3" stroke="#fff" stroke-width="0.6"/>
<text x="627.80" y="210.60" font-size="7" text-anchor="middle">1.0</text>
<text x="3.00" y="244.50" font-size="11.5" font-weight="bold" fill="#000">d</text>
<text x="192.50" y="244.50" font-size="11.5" font-weight="bold" fill="#000">e</text>
<text x="391.30" y="244.50" font-size="11.5" font-weight="bold" fill="#000">f</text>
<text x="96.50" y="245.30" font-size="9" text-anchor="middle">Sender cell types</text>
<text x="44.70" y="285.19" font-size="7" text-anchor="end">Il27</text>
<rect x="49.10" y="276.90" width="15.13" height="11.57" fill="#fee3d9" />
<rect x="65.03" y="276.90" width="15.13" height="11.57" fill="#8d80b8" />
<rect x="80.96" y="276.90" width="15.13" height="11.57" fill="#322b7e" />
<rect x="96.89" y="276.90" width="15.13" height="11.57" fill="#ece9f3" />
<rect x="112.82" y="276.90" width="15.13" height="11.57" fill="#fdb9a4" />
<rect x="128.75" y="276.90" width="15.13" height="11.57" fill="#7c6dac" />
<text x="44.70" y="297.56" font-size="7" text-anchor="end">Ebi3</text>
<rect x="49.10" y="289.27" width="15.13" height="11.57" fill="#fe5c3c" />
<rect x="65.03" y="289.27" width="15.13" height="11.57" fill="#fe5533" />
<rect x="80.96" y="289.27" width="15.13" height="11.57" fill="#fff1ec" />
<rect x="96.89" y="289.27" width="15.13" height="11.57" fill="#ffffff" />
<rect x="112.82" y="289.27" width="15.13" height="11.57" fill="#fd9273" />
<rect x="128.75" y="289.27" width="15.13" height="11.57" fill="#806fac" />
<text x="44.70" y="309.93" font-size="7" text-anchor="end">Tnf</text>
<rect x="49.10" y="301.64" width="15.13" height="11.57" fill="#8c80ba" />
<rect x="65.03" y="301.64" width="15.13" height="11.57" fill="#d9d4e6" />
<rect x="80.96" y="301.64" width="15.13" height="11.57" fill="#ada3cd" />
<rect x="96.89" y="301.64" width="15.13" height="11.57" fill="#191970" />
<rect x="112.82" y="301.64" width="15.13" height="11.57" fill="#fee1d7" />
<rect x="128.75" y="301.64" width="15.13" height="11.57" fill="#7b6cab" />
<text x="44.70" y="322.30" font-size="7" text-anchor="end">Ptprc</text>
<rect x="49.10" y="314.01" width="15.13" height="11.57" fill="#ebe9f2" />
<rect x="65.03" y="314.01" width="15.13" height="11.57" fill="#f6f5fa" />
<rect x="80.96" y="314.01" width="15.13" height="11.57" fill="#f0eef6" />
<rect x="96.89" y="314.01" width="15.13" height="11.57" fill="#fcfcfd" />
<rect x="112.82" y="314.01" width="15.13" height="11.57" fill="#e6e3f0" />
<rect x="128.75" y="314.01" width="15.13" height="11.57" fill="#fe6e4c" />
<text x="44.70" y="334.67" font-size="7" text-anchor="end">H2–Eb1</text>
<rect x="49.10" y="326.38" width="15.13" height="11.57" fill="#d0cce2" />
<rect x="65.03" y="326.38" width="15.13" height="11.57" fill="#fee5dc" />
<rect x="80.96" y="326.38" width="15.13" height="11.57" fill="#d5d1e5" />
<rect x="96.89" y="326.38" width="15.13" height="11.57" fill="#897bb4" />
<rect x="112.82" y="326.38" width="15.13" height="11.57" fill="#fed6c8" />
<rect x="128.75" y="326.38" width="15.13" height="11.57" fill="#fed9cc" />
<text x="44.70" y="347.04" font-size="7" text-anchor="end">Vsig10</text>
<rect x="49.10" y="338.75" width="15.13" height="11.57" fill="#7b6dac" />
<rect x="65.03" y="338.75" width="15.13" height="11.57" fill="#8b7eb7" />
<rect x="80.96" y="338.75" width="15.13" height="11.57" fill="#322b7e" />
<rect x="96.89" y="338.75" width="15.13" height="11.57" fill="#9286bb" />
<rect x="112.82" y="338.75" width="15.13" height="11.57" fill="#e0dcec" />
<rect x="128.75" y="338.75" width="15.13" height="11.57" fill="#fda68c" />
<text x="44.70" y="359.41" font-size="7" text-anchor="end">H2–M3</text>
<rect x="49.10" y="351.12" width="15.13" height="11.57" fill="#fff1ec" />
<rect x="65.03" y="351.12" width="15.13" height="11.57" fill="#ffffff" />
<rect x="80.96" y="351.12" width="15.13" height="11.57" fill="#fee2d7" />
<rect x="96.89" y="351.12" width="15.13" height="11.57" fill="#e2dfed" />
<rect x="112.82" y="351.12" width="15.13" height="11.57" fill="#fff0eb" />
<rect x="128.75" y="351.12" width="15.13" height="11.57" fill="#fda68c" />
<text x="44.70" y="371.77" font-size="7" text-anchor="end">Clcf1</text>
<rect x="49.10" y="363.49" width="15.13" height="11.57" fill="#c6c0db" />
<rect x="65.03" y="363.49" width="15.13" height="11.57" fill="#fd8461" />
<rect x="80.96" y="363.49" width="15.13" height="11.57" fill="#fd9879" />
<rect x="96.89" y="363.49" width="15.13" height="11.57" fill="#f3f1f7" />
<rect x="112.82" y="363.49" width="15.13" height="11.57" fill="#aea4cd" />
<rect x="128.75" y="363.49" width="15.13" height="11.57" fill="#7c6dac" />
<text x="44.70" y="384.14" font-size="7" text-anchor="end">H2–M2</text>
<rect x="49.10" y="375.86" width="15.13" height="11.57" fill="#fedfd4" />
<rect x="65.03" y="375.86" width="15.13" height="11.57" fill="#8d80b8" />
<rect x="80.96" y="375.86" width="15.13" height="11.57" fill="#352e80" />
<rect x="96.89" y="375.86" width="15.13" height="11.57" fill="#9285ba" />
<rect x="112.82" y="375.86" width="15.13" height="11.57" fill="#63549b" />
<rect x="128.75" y="375.86" width="15.13" height="11.57" fill="#b4a9cf" />
<text x="44.70" y="396.51" font-size="7" text-anchor="end">H2–T–ps</text>
<rect x="49.10" y="388.23" width="15.13" height="11.57" fill="#ffeae3" />
<rect x="65.03" y="388.23" width="15.13" height="11.57" fill="#e5e2ef" />
<rect x="80.96" y="388.23" width="15.13" height="11.57" fill="#7c6eac" />
<rect x="96.89" y="388.23" width="15.13" height="11.57" fill="#9b8fc0" />
<rect x="112.82" y="388.23" width="15.13" height="11.57" fill="#fd8966" />
<rect x="128.75" y="388.23" width="15.13" height="11.57" fill="#7d6eac" />
<text x="59.17" y="273.30" font-size="7" transform="rotate(-90.00 59.17 273.30)">CD4 T</text>
<text x="75.09" y="273.30" font-size="7" transform="rotate(-90.00 75.09 273.30)">Treg</text>
<text x="91.03" y="273.30" font-size="7" transform="rotate(-90.00 91.03 273.30)">B</text>
<text x="106.96" y="273.30" font-size="7" transform="rotate(-90.00 106.96 273.30)">NK</text>
<text x="122.89" y="273.30" font-size="7" transform="rotate(-90.00 122.89 273.30)">Mono</text>
<text x="138.82" y="273.30" font-size="7" transform="rotate(-90.00 138.82 273.30)">DC</text>
<defs><linearGradient id="gd"><stop offset="0" stop-color="#191970"/><stop offset="0.52" stop-color="#ffffff"/><stop offset="1" stop-color="#ff5533"/></linearGradient><linearGradient id="ge"><stop offset="0" stop-color="#4575b4"/><stop offset="0.22" stop-color="#91bfdb"/><stop offset="0.38" stop-color="#e0f3f8"/><stop offset="0.5" stop-color="#ffffbf"/><stop offset="0.68" stop-color="#fee090"/><stop offset="0.85" stop-color="#fc8d59"/><stop offset="1" stop-color="#d73027"/></linearGradient></defs>
<text x="58.00" y="423.30" font-size="8.5">LFC</text>
<rect x="76.80" y="414.40" width="57.30" height="11.50" fill="url(#gd)" />
<path d="M88.9 414.4v2.3M88.9 425.9v-2.3" stroke="#fff" stroke-width="0.6"/>
<text x="87.70" y="435.50" font-size="7" text-anchor="middle">–2</text>
<path d="M103.3 414.4v2.3M103.3 425.9v-2.3" stroke="#fff" stroke-width="0.6"/>
<text x="103.30" y="435.50" font-size="7" text-anchor="middle">0</text>
<path d="M118 414.4v2.3M118 425.9v-2.3" stroke="#fff" stroke-width="0.6"/>
<text x="118.00" y="435.50" font-size="7" text-anchor="middle">2</text>
<path d="M132.5 414.4v2.3M132.5 425.9v-2.3" stroke="#fff" stroke-width="0.6"/>
<text x="132.50" y="435.50" font-size="7" text-anchor="middle">4</text>
<path d="M235.3 402V275.2H351.6" fill="none" stroke="#8c8c8c" stroke-width="0.9"/>
<text x="248.90" y="270.50" font-size="7" transform="rotate(-90.00 248.90 270.50)">CD4 T</text>
<text x="267.80" y="270.50" font-size="7" transform="rotate(-90.00 267.80 270.50)">Treg</text>
<text x="286.40" y="270.50" font-size="7" transform="rotate(-90.00 286.40 270.50)">B</text>
<text x="305.00" y="270.50" font-size="7" transform="rotate(-90.00 305.00 270.50)">NK</text>
<text x="323.90" y="270.50" font-size="7" transform="rotate(-90.00 323.90 270.50)">Mono</text>
<text x="342.50" y="270.50" font-size="7" transform="rotate(-90.00 342.50 270.50)">DC</text>
<text x="231.20" y="284.90" font-size="7" text-anchor="end">Il27</text>
<text x="231.20" y="297.32" font-size="7" text-anchor="end">Ebi3</text>
<text x="231.20" y="309.74" font-size="7" text-anchor="end">Tnf</text>
<text x="231.20" y="322.16" font-size="7" text-anchor="end">Ptprc</text>
<text x="231.20" y="334.58" font-size="7" text-anchor="end">H2–Eb1</text>
<text x="231.20" y="347.00" font-size="7" text-anchor="end">Vsig10</text>
<text x="231.20" y="359.42" font-size="7" text-anchor="end">H2–M3</text>
<text x="231.20" y="371.84" font-size="7" text-anchor="end">Clcf1</text>
<text x="231.20" y="384.26" font-size="7" text-anchor="end">H2–M2</text>
<text x="231.20" y="396.68" font-size="7" text-anchor="end">H2–T–ps</text>
<circle cx="246.4" cy="282.40" r="0.35" fill="#f3f0dc"/>
<circle cx="265.3" cy="282.40" r="0.35" fill="#f3f0dc"/>
<circle cx="283.9" cy="282.40" r="0.35" fill="#f3f0dc"/>
<circle cx="302.5" cy="282.40" r="0.35" fill="#f3f0dc"/>
<circle cx="321.4" cy="282.40" r="0.85" fill="#d73027"/>
<circle cx="340.0" cy="282.40" r="0.35" fill="#f3f0dc"/>
<circle cx="246.4" cy="294.82" r="0.50" fill="#e3f0f3"/>
<circle cx="265.3" cy="294.82" r="0.80" fill="#fdd080"/>
<circle cx="283.9" cy="294.82" r="0.35" fill="#f3f0dc"/>
<circle cx="302.5" cy="294.82" r="0.50" fill="#e3f0f3"/>
<circle cx="321.4" cy="294.82" r="1.20" fill="#e34a33"/>
<circle cx="340.0" cy="294.82" r="0.65" fill="#d5e8f0"/>
<circle cx="246.4" cy="307.24" r="0.50" fill="#f5f2c0"/>
<circle cx="265.3" cy="307.24" r="0.95" fill="#d73027"/>
<circle cx="283.9" cy="307.24" r="0.50" fill="#f5f2c0"/>
<circle cx="302.5" cy="307.24" r="0.50" fill="#f5f2c0"/>
<circle cx="321.4" cy="307.24" r="0.50" fill="#f8f0b0"/>
<circle cx="340.0" cy="307.24" r="0.55" fill="#b5d9e8"/>
<circle cx="246.4" cy="319.66" r="3.60" fill="#fdf8b8"/>
<circle cx="265.3" cy="319.66" r="4.20" fill="#feeda1"/>
<circle cx="283.9" cy="319.66" r="4.20" fill="#feeba0"/>
<circle cx="302.5" cy="319.66" r="5.20" fill="#fedc8c"/>
<circle cx="321.4" cy="319.66" r="5.40" fill="#fedc8c"/>
<circle cx="340.0" cy="319.66" r="2.60" fill="#4575b4"/>
<circle cx="246.4" cy="332.08" r="1.00" fill="#b5d9e8"/>
<circle cx="265.3" cy="332.08" r="1.00" fill="#d5ecf2"/>
<circle cx="283.9" cy="332.08" r="5.80" fill="#f07346"/>
<circle cx="302.5" cy="332.08" r="1.00" fill="#9ac4de"/>
<circle cx="321.4" cy="332.08" r="2.20" fill="#feeda1"/>
<circle cx="340.0" cy="332.08" r="2.80" fill="#fedc8c"/>
<circle cx="246.4" cy="344.50" r="0.35" fill="#f3f0dc"/>
<circle cx="265.3" cy="344.50" r="0.35" fill="#f3f0dc"/>
<circle cx="283.9" cy="344.50" r="0.35" fill="#f3f0dc"/>
<circle cx="302.5" cy="344.50" r="0.35" fill="#f3f0dc"/>
<circle cx="321.4" cy="344.50" r="0.45" fill="#f8f0b0"/>
<circle cx="340.0" cy="344.50" r="1.90" fill="#d73027"/>
<circle cx="246.4" cy="356.92" r="1.00" fill="#d5ecf2"/>
<circle cx="265.3" cy="356.92" r="1.10" fill="#fef0a0"/>
<circle cx="283.9" cy="356.92" r="1.40" fill="#f67a49"/>
<circle cx="302.5" cy="356.92" r="1.70" fill="#5c8cc0"/>
<circle cx="321.4" cy="356.92" r="1.90" fill="#fedc8c"/>
<circle cx="340.0" cy="356.92" r="2.00" fill="#fff5b0"/>
<circle cx="246.4" cy="369.34" r="0.70" fill="#fdae61"/>
<circle cx="265.3" cy="369.34" r="0.35" fill="#f3f0dc"/>
<circle cx="283.9" cy="369.34" r="0.50" fill="#f8f0b0"/>
<circle cx="302.5" cy="369.34" r="0.80" fill="#fdc070"/>
<circle cx="321.4" cy="369.34" r="0.70" fill="#fdc070"/>
<circle cx="340.0" cy="369.34" r="0.70" fill="#4575b4"/>
<circle cx="246.4" cy="381.76" r="0.35" fill="#f3f0dc"/>
<circle cx="265.3" cy="381.76" r="0.35" fill="#f3f0dc"/>
<circle cx="283.9" cy="381.76" r="0.35" fill="#f3f0dc"/>
<circle cx="302.5" cy="381.76" r="0.35" fill="#f3f0dc"/>
<circle cx="321.4" cy="381.76" r="0.35" fill="#f3f0dc"/>
<circle cx="340.0" cy="381.76" r="3.80" fill="#d73027"/>
<circle cx="246.4" cy="394.18" r="0.60" fill="#fff0a0"/>
<circle cx="265.3" cy="394.18" r="0.70" fill="#fedc8c"/>
<circle cx="283.9" cy="394.18" r="0.80" fill="#fdc070"/>
<circle cx="302.5" cy="394.18" r="0.70" fill="#fff0a0"/>
<circle cx="321.4" cy="394.18" r="0.80" fill="#fdae61"/>
<circle cx="340.0" cy="394.18" r="0.60" fill="#4575b4"/>
<text x="228.90" y="423.30" font-size="7.6">Average expression</text>
<rect x="299.10" y="414.10" width="57.30" height="11.70" fill="url(#ge)" />
<path d="M313.6 414.1v2.3M313.6 425.8v-2.3" stroke="#fff" stroke-width="0.6"/>
<text x="312.40" y="434.50" font-size="7" text-anchor="middle">–1</text>
<path d="M327.2 414.1v2.3M327.2 425.8v-2.3" stroke="#fff" stroke-width="0.6"/>
<text x="327.20" y="434.50" font-size="7" text-anchor="middle">0</text>
<path d="M341.4 414.1v2.3M341.4 425.8v-2.3" stroke="#fff" stroke-width="0.6"/>
<text x="341.40" y="434.50" font-size="7" text-anchor="middle">1</text>
<path d="M355.3 414.1v2.3M355.3 425.8v-2.3" stroke="#fff" stroke-width="0.6"/>
<text x="355.30" y="434.50" font-size="7" text-anchor="middle">2</text>
<text x="193.00" y="451.00" font-size="7.5">Percent expressed</text>
<circle cx="260.1" cy="448.4" r="0.45" fill="#000"/>
<text x="265.80" y="451.00" font-size="7">0</text>
<circle cx="285" cy="448.4" r="1.85" fill="#000"/>
<text x="291.70" y="451.00" font-size="7">25</text>
<circle cx="317.1" cy="448.4" r="3.05" fill="#000"/>
<text x="324.20" y="451.00" font-size="7">50</text>
<circle cx="352.1" cy="448.4" r="4.6" fill="#000"/>
<text x="360.70" y="451.00" font-size="7">75</text>
<text x="403.60" y="260.30" font-size="8.2" textLength="133.10" lengthAdjust="spacingAndGlyphs">Distribution of expressed ligands</text>
<text x="403.60" y="270.50" font-size="8.2" textLength="138.00" lengthAdjust="spacingAndGlyphs">across all sender–agnostic ligands</text>
<text x="394.50" y="365.00" font-size="8.8" text-anchor="middle" transform="rotate(-90.00 394.50 365.00)">Ligand rankings</text>
<path d="M420.6 283.4H423.6V446.4H420.6M420.6 316H423.6M420.6 348.6H423.6M420.6 381.2H423.6M420.6 413.8H423.6" fill="none" stroke="#333" stroke-width="0.7"/>
<text x="416.40" y="286.00" font-size="7.4" text-anchor="end">0</text>
<text x="416.40" y="318.60" font-size="7.4" text-anchor="end">100</text>
<text x="416.40" y="351.20" font-size="7.4" text-anchor="end">200</text>
<text x="416.40" y="383.80" font-size="7.4" text-anchor="end">300</text>
<text x="416.40" y="416.40" font-size="7.4" text-anchor="end">400</text>
<text x="416.40" y="449.00" font-size="7.4" text-anchor="end">500</text>
<rect x="433.20" y="283.40" width="48.90" height="157.80" fill="#ff6347" />
<rect x="433.2" y="283.4" width="48.9" height="0.6" fill="#200800" fill-opacity="0.4"/>
<rect x="433.2" y="284" width="48.9" height="1" fill="#200800" fill-opacity="0.4"/>
<rect x="433.2" y="291" width="48.9" height="1" fill="#200800" fill-opacity="0.07"/>
<rect x="433.2" y="292" width="48.9" height="1" fill="#200800" fill-opacity="0.88"/>
<rect x="433.2" y="293" width="48.9" height="1" fill="#200800" fill-opacity="0.65"/>
<rect x="433.2" y="294" width="48.9" height="1" fill="#200800" fill-opacity="0.25"/>
<rect x="433.2" y="295" width="48.9" height="1" fill="#200800" fill-opacity="0.14"/>
<rect x="433.2" y="296" width="48.9" height="1" fill="#200800" fill-opacity="0.25"/>
<rect x="433.2" y="297" width="48.9" height="1" fill="#200800" fill-opacity="0.25"/>
<rect x="433.2" y="298" width="48.9" height="1" fill="#200800" fill-opacity="0.65"/>
<rect x="433.2" y="299" width="48.9" height="1" fill="#200800" fill-opacity="0.88"/>
<rect x="433.2" y="300" width="48.9" height="1" fill="#200800" fill-opacity="0.4"/>
<rect x="433.2" y="301" width="48.9" height="1" fill="#200800" fill-opacity="0.25"/>
<rect x="433.2" y="302" width="48.9" height="1" fill="#200800" fill-opacity="0.07"/>
<rect x="433.2" y="303" width="48.9" height="1" fill="#200800" fill-opacity="0.25"/>
<rect x="433.2" y="304" width="48.9" height="1" fill="#200800" fill-opacity="0.07"/>
<rect x="433.2" y="305" width="48.9" height="1" fill="#200800" fill-opacity="0.25"/>
<rect x="433.2" y="306" width="48.9" height="1" fill="#200800" fill-opacity="0.88"/>
<rect x="433.2" y="307" width="48.9" height="1" fill="#200800" fill-opacity="0.25"/>
<rect x="433.2" y="308" width="48.9" height="1" fill="#200800" fill-opacity="0.07"/>
<rect x="433.2" y="309" width="48.9" height="1" fill="#200800" fill-opacity="0.25"/>
<rect x="433.2" y="310" width="48.9" height="1" fill="#200800" fill-opacity="0.4"/>
<rect x="433.2" y="311" width="48.9" height="1" fill="#200800" fill-opacity="0.4"/>
<rect x="433.2" y="312" width="48.9" height="1" fill="#200800" fill-opacity="0.65"/>
<rect x="433.2" y="313" width="48.9" height="1" fill="#200800" fill-opacity="0.88"/>
<rect x="433.2" y="314" width="48.9" height="1" fill="#200800" fill-opacity="0.65"/>
<rect x="433.2" y="316" width="48.9" height="1" fill="#200800" fill-opacity="0.07"/>
<rect x="433.2" y="317" width="48.9" height="1" fill="#200800" fill-opacity="0.88"/>
<rect x="433.2" y="319" width="48.9" height="1" fill="#200800" fill-opacity="0.65"/>
<rect x="433.2" y="320" width="48.9" height="1" fill="#200800" fill-opacity="0.14"/>
<rect x="433.2" y="321" width="48.9" height="1" fill="#200800" fill-opacity="0.4"/>
<rect x="433.2" y="327" width="48.9" height="1" fill="#200800" fill-opacity="0.14"/>
<rect x="433.2" y="328" width="48.9" height="1" fill="#200800" fill-opacity="0.25"/>
<rect x="433.2" y="329" width="48.9" height="1" fill="#200800" fill-opacity="0.25"/>
<rect x="433.2" y="330" width="48.9" height="1" fill="#200800" fill-opacity="0.25"/>
<rect x="433.2" y="331" width="48.9" height="1" fill="#200800" fill-opacity="0.4"/>
<rect x="433.2" y="332" width="48.9" height="1" fill="#200800" fill-opacity="0.4"/>
<rect x="433.2" y="333" width="48.9" height="1" fill="#200800" fill-opacity="0.25"/>
<rect x="433.2" y="334" width="48.9" height="1" fill="#200800" fill-opacity="0.07"/>
<rect x="433.2" y="335" width="48.9" height="1" fill="#200800" fill-opacity="0.25"/>
<rect x="433.2" y="336" width="48.9" height="1" fill="#200800" fill-opacity="0.07"/>
<rect x="433.2" y="337" width="48.9" height="1" fill="#200800" fill-opacity="0.25"/>
<rect x="433.2" y="338" width="48.9" height="1" fill="#200800" fill-opacity="0.4"/>
<rect x="433.2" y="339" width="48.9" height="1" fill="#200800" fill-opacity="0.4"/>
<rect x="433.2" y="340" width="48.9" height="1" fill="#200800" fill-opacity="0.25"/>
<rect x="433.2" y="341" width="48.9" height="1" fill="#200800" fill-opacity="0.14"/>
<rect x="433.2" y="342" width="48.9" height="1" fill="#200800" fill-opacity="0.07"/>
<rect x="433.2" y="343" width="48.9" height="1" fill="#200800" fill-opacity="0.25"/>
<rect x="433.2" y="345" width="48.9" height="1" fill="#200800" fill-opacity="0.88"/>
<rect x="433.2" y="346" width="48.9" height="1" fill="#200800" fill-opacity="0.65"/>
<rect x="433.2" y="348" width="48.9" height="1" fill="#200800" fill-opacity="0.07"/>
<rect x="433.2" y="349" width="48.9" height="1" fill="#200800" fill-opacity="0.25"/>
<rect x="433.2" y="350" width="48.9" height="1" fill="#200800" fill-opacity="0.07"/>
<rect x="433.2" y="351" width="48.9" height="1" fill="#200800" fill-opacity="0.14"/>
<rect x="433.2" y="352" width="48.9" height="1" fill="#200800" fill-opacity="0.25"/>
<rect x="433.2" y="353" width="48.9" height="1" fill="#200800" fill-opacity="0.25"/>
<rect x="433.2" y="354" width="48.9" height="1" fill="#200800" fill-opacity="0.25"/>
<rect x="433.2" y="355" width="48.9" height="1" fill="#200800" fill-opacity="0.07"/>
<rect x="433.2" y="356" width="48.9" height="1" fill="#200800" fill-opacity="0.25"/>
<rect x="433.2" y="357" width="48.9" height="1" fill="#200800" fill-opacity="0.07"/>
<rect x="433.2" y="358" width="48.9" height="1" fill="#200800" fill-opacity="0.65"/>
<rect x="433.2" y="359" width="48.9" height="1" fill="#200800" fill-opacity="0.25"/>
<rect x="433.2" y="360" width="48.9" height="1" fill="#200800" fill-opacity="0.65"/>
<rect x="433.2" y="361" width="48.9" height="1" fill="#200800" fill-opacity="0.25"/>
<rect x="433.2" y="362" width="48.9" height="1" fill="#200800" fill-opacity="0.07"/>
<rect x="433.2" y="363" width="48.9" height="1" fill="#200800" fill-opacity="0.25"/>
<rect x="433.2" y="364" width="48.9" height="1" fill="#200800" fill-opacity="0.88"/>
<rect x="433.2" y="365" width="48.9" height="1" fill="#200800" fill-opacity="0.25"/>
<rect x="433.2" y="366" width="48.9" height="1" fill="#200800" fill-opacity="0.14"/>
<rect x="433.2" y="367" width="48.9" height="1" fill="#200800" fill-opacity="0.25"/>
<rect x="433.2" y="368" width="48.9" height="1" fill="#200800" fill-opacity="0.25"/>
<rect x="433.2" y="369" width="48.9" height="1" fill="#200800" fill-opacity="0.25"/>
<rect x="433.2" y="370" width="48.9" height="1" fill="#200800" fill-opacity="0.25"/>
<rect x="433.2" y="371" width="48.9" height="1" fill="#200800" fill-opacity="0.65"/>
<rect x="433.2" y="372" width="48.9" height="1" fill="#200800" fill-opacity="0.88"/>
<rect x="433.2" y="374" width="48.9" height="1" fill="#200800" fill-opacity="0.07"/>
<rect x="433.2" y="375" width="48.9" height="1" fill="#200800" fill-opacity="0.65"/>
<rect x="433.2" y="376" width="48.9" height="1" fill="#200800" fill-opacity="0.88"/>
<rect x="433.2" y="381" width="48.9" height="1" fill="#200800" fill-opacity="0.14"/>
<rect x="433.2" y="383" width="48.9" height="1" fill="#200800" fill-opacity="0.07"/>
<rect x="433.2" y="384" width="48.9" height="1" fill="#200800" fill-opacity="0.88"/>
<rect x="433.2" y="385" width="48.9" height="1" fill="#200800" fill-opacity="0.25"/>
<rect x="433.2" y="386" width="48.9" height="1" fill="#200800" fill-opacity="0.65"/>
<rect x="433.2" y="388" width="48.9" height="1" fill="#200800" fill-opacity="0.07"/>
<rect x="433.2" y="389" width="48.9" height="1" fill="#200800" fill-opacity="0.65"/>
<rect x="433.2" y="390" width="48.9" height="1" fill="#200800" fill-opacity="0.07"/>
<rect x="433.2" y="391" width="48.9" height="1" fill="#200800" fill-opacity="0.65"/>
<rect x="433.2" y="394" width="48.9" height="1" fill="#200800" fill-opacity="0.07"/>
<rect x="433.2" y="395" width="48.9" height="1" fill="#200800" fill-opacity="0.25"/>
<rect x="433.2" y="396" width="48.9" height="1" fill="#200800" fill-opacity="0.25"/>
<rect x="433.2" y="397" width="48.9" height="1" fill="#200800" fill-opacity="0.07"/>
<rect x="433.2" y="398" width="48.9" height="1" fill="#200800" fill-opacity="0.25"/>
<rect x="433.2" y="399" width="48.9" height="1" fill="#200800" fill-opacity="0.07"/>
<rect x="433.2" y="400" width="48.9" height="1" fill="#200800" fill-opacity="0.25"/>
<rect x="433.2" y="402" width="48.9" height="1" fill="#200800" fill-opacity="0.07"/>
<rect x="433.2" y="403" width="48.9" height="1" fill="#200800" fill-opacity="0.07"/>
<rect x="433.2" y="404" width="48.9" height="1" fill="#200800" fill-opacity="0.88"/>
<rect x="433.2" y="406" width="48.9" height="1" fill="#200800" fill-opacity="0.07"/>
<rect x="433.2" y="407" width="48.9" height="1" fill="#200800" fill-opacity="0.07"/>
<rect x="433.2" y="408" width="48.9" height="1" fill="#200800" fill-opacity="0.25"/>
<rect x="433.2" y="409" width="48.9" height="1" fill="#200800" fill-opacity="0.07"/>
<rect x="433.2" y="410" width="48.9" height="1" fill="#200800" fill-opacity="0.25"/>
<rect x="433.2" y="411" width="48.9" height="1" fill="#200800" fill-opacity="0.4"/>
<rect x="433.2" y="412" width="48.9" height="1" fill="#200800" fill-opacity="0.25"/>
<rect x="433.2" y="413" width="48.9" height="1" fill="#200800" fill-opacity="0.4"/>
<rect x="433.2" y="414" width="48.9" height="1" fill="#200800" fill-opacity="0.4"/>
<rect x="433.2" y="415" width="48.9" height="1" fill="#200800" fill-opacity="0.4"/>
<rect x="433.2" y="416" width="48.9" height="1" fill="#200800" fill-opacity="0.25"/>
<rect x="433.2" y="417" width="48.9" height="1" fill="#200800" fill-opacity="0.25"/>
<rect x="433.2" y="418" width="48.9" height="1" fill="#200800" fill-opacity="0.25"/>
<rect x="433.2" y="419" width="48.9" height="1" fill="#200800" fill-opacity="0.65"/>
<rect x="433.2" y="420" width="48.9" height="1" fill="#200800" fill-opacity="0.25"/>
<rect x="433.2" y="421" width="48.9" height="1" fill="#200800" fill-opacity="0.4"/>
<rect x="433.2" y="422" width="48.9" height="1" fill="#200800" fill-opacity="0.65"/>
<rect x="433.2" y="423" width="48.9" height="1" fill="#200800" fill-opacity="0.25"/>
<rect x="433.2" y="424" width="48.9" height="1" fill="#200800" fill-opacity="0.07"/>
<rect x="433.2" y="425" width="48.9" height="1" fill="#200800" fill-opacity="0.25"/>
<rect x="433.2" y="426" width="48.9" height="1" fill="#200800" fill-opacity="0.07"/>
<rect x="433.2" y="427" width="48.9" height="1" fill="#200800" fill-opacity="0.25"/>
<rect x="433.2" y="428" width="48.9" height="1" fill="#200800" fill-opacity="0.65"/>
<rect x="433.2" y="429" width="48.9" height="1" fill="#200800" fill-opacity="0.07"/>
<rect x="433.2" y="430" width="48.9" height="1" fill="#200800" fill-opacity="0.14"/>
<rect x="433.2" y="434" width="48.9" height="1" fill="#200800" fill-opacity="0.07"/>
<rect x="433.2" y="435" width="48.9" height="1" fill="#200800" fill-opacity="0.25"/>
<rect x="433.2" y="436" width="48.9" height="1" fill="#200800" fill-opacity="0.4"/>
<rect x="433.2" y="437" width="48.9" height="1" fill="#200800" fill-opacity="0.07"/>
<path d="M487.2 283.1h2.4v3.6h-2.4M489.6 284.4H506.9" fill="none" stroke="#333" stroke-width="0.6"/>
<rect x="506.9" y="284.2" width="170.1" height="148.8" fill="#fff" stroke="#555" stroke-width="0.8"/>
<text x="514.70" y="291.80" font-size="8.2">Rank</text>
<text x="546.40" y="291.80" font-size="8.2" textLength="35.40" lengthAdjust="spacingAndGlyphs">Agnostic</text>
<text x="616.80" y="291.80" font-size="8.2" textLength="33.80" lengthAdjust="spacingAndGlyphs">Focused</text>
<rect x="619.3" y="409" width="4.7" height="21.8" rx="2.3" fill="#bdbdbd"/>
<path d="M621.7 326.7L602.5 428.1M621.7 340.8L607.3 428.1M621.7 354.8L610.1 428.1M621.7 368.9L612.6 428.1M621.7 382.9L615.1 428.1M621.7 397.0L617.2 428.1M621.7 411.0L619 428.1M621.7 425.1L620.6 428.1M567.4 340.8L621.7 298.6M567.4 397.0L621.7 312.7" fill="none" stroke="#111" stroke-width="0.6"/>
<text x="525.50" y="301.10" font-size="7" text-anchor="middle">1</text>
<text x="561.70" y="301.10" font-size="7" text-anchor="end" fill="#ff6347">Ifna1</text>
<circle cx="567.4" cy="298.6" r="1.5" fill="#ff6347"/>
<circle cx="621.7" cy="298.6" r="1.5" fill="#000"/>
<text x="629.70" y="301.10" font-size="7">Il27</text>
<text x="525.50" y="315.15" font-size="7" text-anchor="middle">2</text>
<text x="561.70" y="315.15" font-size="7" text-anchor="end" fill="#ff6347">Ifnb1</text>
<circle cx="567.4" cy="312.7" r="1.5" fill="#ff6347"/>
<circle cx="621.7" cy="312.7" r="1.5" fill="#000"/>
<text x="629.70" y="315.15" font-size="7">Ebi3</text>
<text x="525.50" y="329.20" font-size="7" text-anchor="middle">3</text>
<text x="561.70" y="329.20" font-size="7" text-anchor="end" fill="#ff6347">Ifnl3</text>
<circle cx="567.4" cy="326.7" r="1.5" fill="#ff6347"/>
<circle cx="621.7" cy="326.7" r="1.5" fill="#000"/>
<text x="629.70" y="329.20" font-size="7">Tnf</text>
<text x="525.50" y="343.25" font-size="7" text-anchor="middle">4</text>
<text x="561.70" y="343.25" font-size="7" text-anchor="end">Il27</text>
<circle cx="567.4" cy="340.8" r="1.5" fill="#000"/>
<circle cx="621.7" cy="340.8" r="1.5" fill="#000"/>
<text x="629.70" y="343.25" font-size="7">Ptprc</text>
<text x="525.50" y="357.30" font-size="7" text-anchor="middle">5</text>
<text x="561.70" y="357.30" font-size="7" text-anchor="end" fill="#ff6347">Ifng</text>
<circle cx="567.4" cy="354.8" r="1.5" fill="#ff6347"/>
<circle cx="621.7" cy="354.8" r="1.5" fill="#000"/>
<text x="629.70" y="357.30" font-size="7">H2–Eb1</text>
<text x="525.50" y="371.35" font-size="7" text-anchor="middle">6</text>
<text x="561.70" y="371.35" font-size="7" text-anchor="end" fill="#ff6347">Ifnk</text>
<circle cx="567.4" cy="368.9" r="1.5" fill="#ff6347"/>
<circle cx="621.7" cy="368.9" r="1.5" fill="#000"/>
<text x="629.70" y="371.35" font-size="7">Vsig10</text>
<text x="525.50" y="385.40" font-size="7" text-anchor="middle">7</text>
<text x="561.70" y="385.40" font-size="7" text-anchor="end" fill="#ff6347">Ifne</text>
<circle cx="567.4" cy="382.9" r="1.5" fill="#ff6347"/>
<circle cx="621.7" cy="382.9" r="1.5" fill="#000"/>
<text x="629.70" y="385.40" font-size="7">H2–M3</text>
<text x="525.50" y="399.45" font-size="7" text-anchor="middle">8</text>
<text x="561.70" y="399.45" font-size="7" text-anchor="end">Ebi3</text>
<circle cx="567.4" cy="397.0" r="1.5" fill="#000"/>
<circle cx="621.7" cy="397.0" r="1.5" fill="#000"/>
<text x="629.70" y="399.45" font-size="7">Clcf1</text>
<text x="525.50" y="413.50" font-size="7" text-anchor="middle">9</text>
<text x="561.70" y="413.50" font-size="7" text-anchor="end" fill="#ff6347">Ifnl2</text>
<circle cx="567.4" cy="411.0" r="1.5" fill="#ff6347"/>
<circle cx="621.7" cy="411.0" r="1.5" fill="#000"/>
<text x="629.70" y="413.50" font-size="7">H2–M2</text>
<text x="525.50" y="427.55" font-size="7" text-anchor="middle">10</text>
<text x="561.70" y="427.55" font-size="7" text-anchor="end" fill="#ff6347">Ifna2</text>
<circle cx="567.4" cy="425.1" r="1.5" fill="#ff6347"/>
<circle cx="621.7" cy="425.1" r="1.5" fill="#000"/>
<text x="629.70" y="427.55" font-size="7">H2–T–ps</text>
<circle cx="512.9" cy="446.5" r="2.7" fill="#ff6347"/>
<text x="520.70" y="449.60" font-size="9">Only agnostic</text>
<rect x="594.90" y="442.60" width="7.20" height="7.20" fill="#bdbdbd" />
<text x="606.90" y="449.60" font-size="8.8">Tied</text>
<text x="2.70" y="489.80" font-size="11.5" font-weight="bold" fill="#000">g</text>
<path d="M109.27 647.93A62.6 62.6 0 0 1 103.93 649.06Q99.70 581.14 34.28 579.00L32.32 577.86Q30.99 575.56 33.06 573.91L35.30 573.55Q99.27 581.62 109.27 647.93Z" fill="#ff8000" fill-opacity="0.45"/>
<path d="M103.93 649.06A62.6 62.6 0 0 1 98.52 649.71Q100.23 582.27 37.02 567.61L35.33 566.11Q34.46 563.61 36.82 562.39L39.08 562.47Q99.60 582.78 103.93 649.06Z" fill="#ff8000" fill-opacity="0.45"/>
<path d="M93.06 649.90A62.6 62.6 0 0 0 98.52 649.71Q89.60 586.61 117.77 532.34L117.82 530.07Q116.56 527.74 114.07 528.64L112.59 530.35Q91.05 586.86 93.06 649.90Z" fill="#ff8000" fill-opacity="0.45"/>
<path d="M93.06 649.90A62.6 62.6 0 0 1 87.62 649.60Q100.97 583.58 41.87 557.07L40.50 555.27Q40.13 552.65 42.68 551.90L44.88 552.42Q100.23 583.98 93.06 649.90Z" fill="#ff8000" fill-opacity="0.45"/>
<path d="M87.62 649.60A62.6 62.6 0 0 1 82.22 648.84Q94.71 587.43 97.84 527.44L98.84 525.41Q101.03 523.92 102.83 525.87L103.34 528.08Q93.14 587.23 87.62 649.60Z" fill="#ff8000" fill-opacity="0.45"/>
<path d="M76.91 647.60A62.6 62.6 0 0 0 82.22 648.84Q92.58 587.01 112.39 530.28L112.22 528.03Q110.75 525.82 108.35 526.95L107.05 528.80Q94.10 587.40 76.91 647.60Z" fill="#ff8000" fill-opacity="0.45"/>
<path d="M76.91 647.60A62.6 62.6 0 0 1 71.72 645.91Q101.92 585.13 47.64 548.85L46.58 546.85Q46.66 544.20 49.30 543.89L51.38 544.77Q101.25 585.33 76.91 647.60Z" fill="#ff8000" fill-opacity="0.45"/>
<path d="M66.70 643.78A62.6 62.6 0 0 0 71.72 645.91Q88.83 582.04 151.33 570.61L153.10 569.20Q154.10 566.74 151.81 565.40L149.55 565.36Q89.57 582.86 66.70 643.78Z" fill="#ff8000" fill-opacity="0.45"/>
<path d="M66.70 643.78A62.6 62.6 0 0 1 61.89 641.21Q98.25 588.48 92.08 527.32L92.88 525.21Q94.92 523.51 96.90 525.28L97.62 527.43Q96.87 588.13 66.70 643.78Z" fill="#ff8000" fill-opacity="0.45"/>
<path d="M57.31 638.24A62.6 62.6 0 0 0 61.89 641.21Q90.13 583.07 149.77 565.94L151.42 564.39Q152.21 561.86 149.82 560.71L147.56 560.86Q90.99 584.10 57.31 638.24Z" fill="#ff8000" fill-opacity="0.45"/>
<path d="M57.31 638.24A62.6 62.6 0 0 1 53.02 634.88Q102.62 587.31 54.78 541.64L54.07 539.49Q54.60 536.89 57.24 537.03L59.15 538.24Q102.20 587.33 57.31 638.24Z" fill="#ff8000" fill-opacity="0.5"/>
<path d="M53.02 634.88A62.6 62.6 0 0 1 49.03 631.16Q95.24 588.54 125.99 536.73L127.84 535.42Q130.48 535.17 131.12 537.74L130.51 539.92Q94.02 587.56 53.02 634.88Z" fill="#ff8000" fill-opacity="0.5"/>
<path d="M45.38 627.10A62.6 62.6 0 0 0 49.03 631.16Q92.54 585.84 144.44 555.28L145.75 553.43Q146.03 550.80 143.46 550.14L141.27 550.74Q93.52 587.07 45.38 627.10Z" fill="#ff8000" fill-opacity="0.5"/>
<path d="M45.38 627.10A62.6 62.6 0 0 1 42.10 622.75Q102.50 589.22 62.94 535.79L62.60 533.55Q63.55 531.07 66.14 531.65L67.82 533.17Q102.25 589.19 45.38 627.10Z" fill="#ff8000" fill-opacity="0.5"/>
<path d="M42.10 622.75A62.6 62.6 0 0 1 39.21 618.12Q94.92 588.96 137.55 546.34L139.67 545.54Q142.29 545.95 142.27 548.60L141.14 550.56Q94.00 587.70 42.10 622.75Z" fill="#ff8000" fill-opacity="0.55"/>
<path d="M39.21 618.12A62.6 62.6 0 0 1 36.74 613.26Q95.93 590.27 132.79 541.78L134.81 540.75Q137.46 540.87 137.73 543.51L136.82 545.58Q95.03 589.07 39.21 618.12Z" fill="#ff8000" fill-opacity="0.65"/>
<path d="M150.87 612.80A62.6 62.6 0 0 0 152.52 608.71Q85.44 590.13 125.62 536.50L126.15 534.35Q125.60 532.05 123.33 532.73L121.74 534.25Q85.21 590.23 150.87 612.80Z" fill="#f781bf" fill-opacity="0.35"/>
<path d="M150.87 612.80A62.6 62.6 0 0 1 148.72 617.16Q94.74 583.49 33.73 585.27L31.67 584.43Q30.08 582.52 31.93 580.86L34.10 580.34Q94.40 584.76 150.87 612.80Z" fill="#f781bf" fill-opacity="0.35"/>
<path d="M145.63 622.26A62.6 62.6 0 0 0 148.72 617.16Q86.97 587.20 147.25 560.24L148.70 558.46Q149.12 555.69 146.52 554.65L144.25 554.98Q85.72 587.21 145.63 622.26Z" fill="#f781bf" fill-opacity="0.62"/>
<path d="M145.63 622.26A62.6 62.6 0 0 1 141.93 627.21Q94.94 585.31 38.97 562.70L37.46 560.96Q36.96 558.14 39.54 556.91L41.84 557.12Q94.01 586.81 145.63 622.26Z" fill="#f781bf" fill-opacity="0.62"/>
<path d="M141.93 627.21A62.6 62.6 0 0 1 137.60 631.92Q96.03 583.11 35.17 574.12L33.35 572.67Q32.31 569.93 34.63 568.14L36.94 567.86Q95.22 584.58 141.93 627.21Z" fill="#f781bf" fill-opacity="0.62"/>
<path d="M132.64 636.31A62.6 62.6 0 0 0 137.60 631.92Q88.15 589.67 91.83 527.33L90.72 525.27Q88.14 523.74 85.86 525.70L85.13 527.92Q89.61 589.07 132.64 636.31Z" fill="#f781bf" fill-opacity="0.7"/>
<path d="M126.69 640.50A62.6 62.6 0 0 0 132.64 636.31Q90.95 588.77 75.39 530.16L73.66 528.52Q70.52 527.86 68.67 530.47L68.50 532.85Q92.76 587.81 126.69 640.50Z" fill="#f781bf" fill-opacity="0.7"/>
<path d="M36.74 613.26A62.6 62.6 0 0 1 33.65 604.97Q101.68 591.47 74.73 530.38L75.32 527.98Q77.83 525.50 81.23 526.46L82.90 528.28Q101.45 591.35 36.74 613.26Z" fill="#ff8000" fill-opacity="1.0"/>
<path d="M25.92 588.90A67.8 67.8 0 0 1 26.41 578.98L29.99 579.42A64.2 64.2 0 0 0 29.52 588.81Z" fill="#999999" />
<path d="M26.49 578.39A67.8 67.8 0 0 1 28.95 567.19L32.39 568.26A64.2 64.2 0 0 0 30.06 578.86Z" fill="#999999" />
<path d="M29.13 566.63A67.8 67.8 0 0 1 33.64 555.84L36.83 557.51A64.2 64.2 0 0 0 32.56 567.73Z" fill="#999999" />
<path d="M33.92 555.31A67.8 67.8 0 0 1 38.68 547.69L41.60 549.79A64.2 64.2 0 0 0 37.09 557.01Z" fill="#999999" />
<path d="M39.02 547.21A67.8 67.8 0 0 1 45.05 540.07L47.64 542.58A64.2 64.2 0 0 0 41.93 549.34Z" fill="#999999" />
<path d="M45.47 539.65A67.8 67.8 0 0 1 54.38 532.07L56.46 535.00A64.2 64.2 0 0 0 48.03 542.18Z" fill="#999999" />
<path d="M54.86 531.73A67.8 67.8 0 0 1 64.78 525.98L66.31 529.23A64.2 64.2 0 0 0 56.92 534.68Z" fill="#999999" />
<path d="M65.31 525.73A67.8 67.8 0 0 1 80.94 520.71L81.62 524.25A64.2 64.2 0 0 0 66.82 529.00Z" fill="#999999" />
<path d="M81.52 520.60A67.8 67.8 0 0 1 98.61 519.68L98.35 523.27A64.2 64.2 0 0 0 82.17 524.14Z" fill="#999999" />
<path d="M99.20 519.72A67.8 67.8 0 0 1 104.83 520.42L104.24 523.97A64.2 64.2 0 0 0 98.90 523.31Z" fill="#999999" />
<path d="M105.42 520.52A67.8 67.8 0 0 1 115.49 523.10L114.34 526.51A64.2 64.2 0 0 0 104.79 524.07Z" fill="#999999" />
<path d="M116.05 523.29A67.8 67.8 0 0 1 121.76 525.58L120.27 528.86A64.2 64.2 0 0 0 114.87 526.69Z" fill="#999999" />
<path d="M122.30 525.83A67.8 67.8 0 0 1 130.97 530.66L128.99 533.67A64.2 64.2 0 0 0 120.78 529.09Z" fill="#999999" />
<path d="M131.47 530.99A67.8 67.8 0 0 1 136.60 534.80L134.32 537.58A64.2 64.2 0 0 0 129.46 533.98Z" fill="#999999" />
<path d="M137.05 535.17A67.8 67.8 0 0 1 143.73 541.54L141.07 543.97A64.2 64.2 0 0 0 134.75 537.94Z" fill="#999999" />
<path d="M144.12 541.98A67.8 67.8 0 0 1 148.31 547.11L145.41 549.25A64.2 64.2 0 0 0 141.45 544.38Z" fill="#999999" />
<path d="M148.66 547.59A67.8 67.8 0 0 1 152.62 553.76L149.49 555.54A64.2 64.2 0 0 0 145.74 549.70Z" fill="#999999" />
<path d="M152.91 554.27A67.8 67.8 0 0 1 155.32 559.02L152.05 560.52A64.2 64.2 0 0 0 149.77 556.03Z" fill="#999999" />
<path d="M155.57 559.56A67.8 67.8 0 0 1 157.19 563.50L153.81 564.76A64.2 64.2 0 0 0 152.28 561.03Z" fill="#999999" />
<path d="M157.39 564.06A67.8 67.8 0 0 1 158.82 568.44L155.37 569.44A64.2 64.2 0 0 0 154.01 565.29Z" fill="#999999" />
<path d="M122.76 648.78A68.0 68.0 0 0 1 28.47 606.50L32.02 605.45A64.3 64.3 0 0 0 121.18 645.43Z" fill="#ff8000" />
<path d="M161.70 587.30A68.0 68.0 0 0 1 129.13 645.34L127.20 642.18A64.3 64.3 0 0 0 158.00 587.30Z" fill="#f781bf" />
<path d="M110.03 648.25A63.1 63.1 0 0 1 33.17 605.12" fill="none" stroke="#666" stroke-width="0.45"/>
<path d="M153.07 608.67A63.1 63.1 0 0 1 126.58 641.16" fill="none" stroke="#666" stroke-width="0.45"/>
<text font-size="6.1" text-anchor="end" transform="translate(23.37 586.85) rotate(2.0)">Cxcl10</text>
<text font-size="6.1" text-anchor="end" transform="translate(24.52 574.64) rotate(12.0)">Ddx58</text>
<text font-size="6.1" text-anchor="end" transform="translate(27.99 562.25) rotate(22.5)">Gbp2</text>
<text font-size="6.1" text-anchor="end" transform="translate(33.02 551.74) rotate(32.0)">Ifi35</text>
<text font-size="6.1" text-anchor="end" transform="translate(38.56 543.64) rotate(40.0)">Ifit2</text>
<text font-size="6.1" text-anchor="end" transform="translate(48.53 531.33) rotate(49.5) scale(1 -1)">Ifit3</text>
<text font-size="6.1" text-anchor="end" transform="translate(58.38 524.64) rotate(59.0) scale(1 -1)">Ifit3b</text>
<text font-size="6.1" text-anchor="end" transform="translate(73.38 518.30) rotate(72.0) scale(1 -1)">Irf1</text>
<text font-size="6.1" text-anchor="end" transform="translate(88.17 515.58) rotate(84.0) scale(1 -1)">Irf7</text>
<text font-size="6.1" transform="translate(97.54 517.08) rotate(-88.5)">Lgals3bp</text>
<text font-size="6.1" transform="translate(104.25 517.77) rotate(-83.0)">Ly6e</text>
<text font-size="6.1" transform="translate(113.83 519.91) rotate(-75.0)">Nampt</text>
<text font-size="6.1" transform="translate(123.01 523.37) rotate(-67.0)">Nmi</text>
<text font-size="6.1" transform="translate(130.58 527.42) rotate(-60.0)">Parp12</text>
<text font-size="6.1" transform="translate(138.08 532.74) rotate(-52.5)">Sp110</text>
<text font-size="6.1" transform="translate(144.82 539.00) rotate(-45.0)">Stat1</text>
<text font-size="6.1" transform="translate(151.05 546.59) rotate(-37.0)">Stat2</text>
<text font-size="6.1" transform="translate(155.87 554.42) rotate(-29.5)">Tap1</text>
<text font-size="6.1" transform="translate(159.63 562.82) rotate(-22.0)">Trafd1</text>
<text font-size="6.1" transform="translate(161.51 568.66) rotate(-17.0)">Ub2l6e</text>
<text font-size="6.1" text-anchor="end" transform="translate(63.73 654.81) rotate(-64)">Il27</text>
<text font-size="6.1" transform="translate(155.62 623.05) rotate(30)">Tnf</text>
<rect x="187.70" y="573.60" width="7.00" height="7.60" fill="#ff8000" />
<text x="199.50" y="580.00" font-size="7.6">Mono</text>
<rect x="187.70" y="582.40" width="7.00" height="7.60" fill="#f781bf" />
<text x="199.50" y="588.80" font-size="7.6">Treg</text>
<rect x="187.70" y="591.20" width="7.00" height="7.60" fill="#999999" />
<text x="199.50" y="597.60" font-size="7.6">Target</text>
<text x="266.30" y="489.40" font-size="11.5" font-weight="bold" fill="#000">h</text>
<text x="407.60" y="489.40" font-size="11.5" font-weight="bold" fill="#000">i</text>
<path d="M317.66 538.44L312.44 548.72" stroke="#cd5c5c" stroke-width="0.8" fill="none"/>
<path d="M310.94 551.66L310.91 547.94L313.97 549.49Z" fill="#cd5c5c"/>
<path d="M325.00 540.20L325.00 588.80" stroke="#e9a3a3" stroke-width="1.0" fill="none"/>
<path d="M325.00 592.40L323.13 588.80L326.87 588.80Z" fill="#e9a3a3"/>
<path d="M312.94 579.53L317.70 588.99" stroke="#cd5c5c" stroke-width="1.6" fill="none"/>
<path d="M319.77 593.10L315.56 590.06L319.84 587.91Z" fill="#cd5c5c"/>
<path d="M315.66 595.17L310.72 585.35" stroke="#cd5c5c" stroke-width="1.4" fill="none"/>
<path d="M308.83 581.60L312.67 584.37L308.77 586.34Z" fill="#cd5c5c"/>
<path d="M299.67 581.82L287.50 630.42" stroke="#4682b4" stroke-width="1.5" fill="none"/>
<path d="M286.43 634.68L285.28 629.86L289.72 630.97Z" fill="#4682b4"/>
<path d="M307.59 581.80L320.28 631.79" stroke="#4682b4" stroke-width="0.6" fill="none"/>
<path d="M321.01 634.70L318.76 632.17L321.79 631.41Z" fill="#4682b4"/>
<path d="M313.45 619.96L297.19 635.96" stroke="#4682b4" stroke-width="1.5" fill="none"/>
<path d="M294.05 639.04L295.58 634.32L298.79 637.59Z" fill="#4682b4"/>
<path d="M325.00 624.80L325.00 630.80" stroke="#4682b4" stroke-width="0.8" fill="none"/>
<path d="M325.00 634.20L323.23 630.80L326.77 630.80Z" fill="#4682b4"/>
<circle cx="325" cy="524" r="16.2" fill="#cd5c5c"/>
<text x="325.00" y="526.90" font-size="8.6" text-anchor="middle" fill="#fff">Ebi3</text>
<circle cx="303.6" cy="566.1" r="16.2" fill="#808080"/>
<text x="303.60" y="569.00" font-size="8.6" text-anchor="middle" fill="#fff">Stat1</text>
<circle cx="325" cy="608.6" r="16.2" fill="#808080"/>
<text x="325.00" y="611.50" font-size="8.6" text-anchor="middle" fill="#fff">Stat3</text>
<circle cx="282.5" cy="650.4" r="16.2" fill="#4682b4"/>
<text x="282.50" y="653.30" font-size="8.6" text-anchor="middle" fill="#fff">Irf1</text>
<circle cx="325" cy="650.4" r="16.2" fill="#4682b4"/>
<text x="325.00" y="653.30" font-size="8.6" text-anchor="middle" fill="#fff">Irf9</text>
<text x="413.60" y="605.50" font-size="8.3" text-anchor="middle" transform="rotate(-90.00 413.60 605.50)" textLength="112.00" lengthAdjust="spacingAndGlyphs">Ligand–receptor interaction</text>
<text x="530.20" y="505.00" font-size="9" text-anchor="middle">Sender cell types</text>
<rect x="470.2" y="536.4" width="120.6" height="136.2" fill="#fff" stroke="#777" stroke-width="0.8"/>
<path d="M479.10 536.8V672.2M496.25 536.8V672.2M513.40 536.8V672.2M530.55 536.8V672.2M547.70 536.8V672.2M564.85 536.8V672.2M582.00 536.8V672.2M470.6 545.10H590.4M470.6 562.25H590.4M470.6 579.40H590.4M470.6 596.55H590.4M470.6 613.70H590.4M470.6 630.85H590.4M470.6 648.00H590.4M470.6 665.15H590.4" stroke="#ebebeb" stroke-width="0.6" fill="none"/>
<text x="490.20" y="531.50" font-size="7" transform="rotate(-90.00 490.20 531.50)">CD4 T</text>
<text x="507.35" y="531.50" font-size="7" transform="rotate(-90.00 507.35 531.50)">Treg</text>
<text x="524.50" y="531.50" font-size="7" transform="rotate(-90.00 524.50 531.50)">B</text>
<text x="541.65" y="531.50" font-size="7" transform="rotate(-90.00 541.65 531.50)">NK</text>
<text x="558.80" y="531.50" font-size="7" transform="rotate(-90.00 558.80 531.50)">Mono</text>
<text x="575.95" y="531.50" font-size="7" transform="rotate(-90.00 575.95 531.50)">DC</text>
<text x="465.70" y="556.20" font-size="7" text-anchor="end">Ptprc–Dpp4</text>
<text x="465.70" y="573.35" font-size="7" text-anchor="end">Cxcl10–Dpp4</text>
<text x="465.70" y="590.50" font-size="7" text-anchor="end">Cxcl9–Dpp4</text>
<text x="465.70" y="607.65" font-size="7" text-anchor="end">Ebi3–Il6st</text>
<text x="465.70" y="624.80" font-size="7" text-anchor="end">Icam1–Il2rg</text>
<text x="465.70" y="641.95" font-size="7" text-anchor="end">B2m–Tap2</text>
<text x="465.70" y="659.10" font-size="7" text-anchor="end">Cxcl11–Dpp4</text>
<path d="M487.70 546.40A7.3 7.3 0 0 1 487.70 561.00Z" fill="#cbcbcb"/>
<path d="M504.85 547.20A6.5 6.5 0 0 0 504.85 560.20Z" fill="#d9e6f3"/>
<path d="M504.85 546.20A7.5 7.5 0 0 1 504.85 561.20Z" fill="#ad0f17"/>
<path d="M522.00 547.70A6.0 6.0 0 0 0 522.00 559.70Z" fill="#d9e6f3"/>
<path d="M522.00 546.20A7.5 7.5 0 0 1 522.00 561.20Z" fill="#ad0f17"/>
<path d="M539.15 546.20A7.5 7.5 0 0 0 539.15 561.20Z" fill="#7c89b7"/>
<path d="M539.15 546.20A7.5 7.5 0 0 1 539.15 561.20Z" fill="#ad0f17"/>
<path d="M556.30 546.20A7.5 7.5 0 0 0 556.30 561.20Z" fill="#8e99c2"/>
<path d="M556.30 546.20A7.5 7.5 0 0 1 556.30 561.20Z" fill="#ad0f17"/>
<path d="M573.45 546.40A7.3 7.3 0 0 1 573.45 561.00Z" fill="#cbcbcb"/>
<path d="M487.70 563.55A7.3 7.3 0 0 1 487.70 578.15Z" fill="#cbcbcb"/>
<path d="M504.85 563.55A7.3 7.3 0 0 1 504.85 578.15Z" fill="#cbcbcb"/>
<path d="M522.00 563.55A7.3 7.3 0 0 1 522.00 578.15Z" fill="#cbcbcb"/>
<path d="M539.15 563.55A7.3 7.3 0 0 1 539.15 578.15Z" fill="#cbcbcb"/>
<path d="M556.30 563.35A7.5 7.5 0 0 0 556.30 578.35Z" fill="#203a7c"/>
<path d="M556.30 563.35A7.5 7.5 0 0 1 556.30 578.35Z" fill="#ad0f17"/>
<path d="M573.45 563.55A7.3 7.3 0 0 1 573.45 578.15Z" fill="#cbcbcb"/>
<path d="M487.70 580.70A7.3 7.3 0 0 1 487.70 595.30Z" fill="#cbcbcb"/>
<path d="M504.85 580.70A7.3 7.3 0 0 1 504.85 595.30Z" fill="#cbcbcb"/>
<path d="M522.00 580.70A7.3 7.3 0 0 1 522.00 595.30Z" fill="#cbcbcb"/>
<path d="M539.15 580.70A7.3 7.3 0 0 1 539.15 595.30Z" fill="#cbcbcb"/>
<path d="M556.30 580.50A7.5 7.5 0 0 0 556.30 595.50Z" fill="#0d2d72"/>
<path d="M556.30 580.50A7.5 7.5 0 0 1 556.30 595.50Z" fill="#ad0f17"/>
<path d="M573.45 580.70A7.3 7.3 0 0 1 573.45 595.30Z" fill="#cbcbcb"/>
<path d="M487.70 649.30A7.3 7.3 0 0 1 487.70 663.90Z" fill="#cbcbcb"/>
<path d="M504.85 649.30A7.3 7.3 0 0 1 504.85 663.90Z" fill="#cbcbcb"/>
<path d="M522.00 649.30A7.3 7.3 0 0 1 522.00 663.90Z" fill="#cbcbcb"/>
<path d="M539.15 649.30A7.3 7.3 0 0 1 539.15 663.90Z" fill="#cbcbcb"/>
<path d="M556.30 649.10A7.5 7.5 0 0 0 556.30 664.10Z" fill="#0d2d72"/>
<path d="M556.30 649.10A7.5 7.5 0 0 1 556.30 664.10Z" fill="#ad0f17"/>
<path d="M573.45 649.30A7.3 7.3 0 0 1 573.45 663.90Z" fill="#cbcbcb"/>
<path d="M487.70 598.95A6.2 6.2 0 0 1 487.70 611.35Z" fill="#efefef"/>
<path d="M504.85 599.65A5.5 5.5 0 0 0 504.85 610.65Z" fill="#efefef"/>
<path d="M504.85 598.95A6.2 6.2 0 0 1 504.85 611.35Z" fill="#efefef"/>
<path d="M522.00 598.95A6.2 6.2 0 0 1 522.00 611.35Z" fill="#efefef"/>
<path d="M539.15 598.95A6.2 6.2 0 0 1 539.15 611.35Z" fill="#efefef"/>
<path d="M556.30 598.15A7.0 7.0 0 0 0 556.30 612.15Z" fill="#2f4687"/>
<path d="M556.30 599.65A5.5 5.5 0 0 1 556.30 610.65Z" fill="#e9a392"/>
<path d="M573.45 598.95A6.2 6.2 0 0 1 573.45 611.35Z" fill="#efefef"/>
<path d="M487.70 615.30A7.0 7.0 0 0 1 487.70 629.30Z" fill="#e7e7e7"/>
<path d="M504.85 615.30A7.0 7.0 0 0 1 504.85 629.30Z" fill="#e7e7e7"/>
<path d="M522.00 615.30A7.0 7.0 0 0 1 522.00 629.30Z" fill="#e7e7e7"/>
<path d="M539.15 615.30A7.0 7.0 0 0 1 539.15 629.30Z" fill="#e7e7e7"/>
<path d="M556.30 617.80A4.5 4.5 0 0 0 556.30 626.80Z" fill="#d6d6d6"/>
<path d="M556.30 615.80A6.5 6.5 0 0 1 556.30 628.80Z" fill="#e7e7e7"/>
<path d="M556.30 634.95A4.5 4.5 0 0 0 556.30 643.95Z" fill="#d9d9d9"/>
<path d="M573.45 614.80A7.5 7.5 0 0 0 573.45 629.80Z" fill="#7c89b7"/>
<path d="M573.45 614.80A7.5 7.5 0 0 1 573.45 629.80Z" fill="#e08d79"/>
<path d="M573.45 632.45A7.0 7.0 0 0 0 573.45 646.45Z" fill="#8e99c2"/>
<path d="M573.45 633.45A6.0 6.0 0 0 1 573.45 645.45Z" fill="#fde0d4"/>
<path d="M504.85 546.20V561.20" stroke="#fff" stroke-opacity="0.6" stroke-width="0.5"/>
<text x="504.85" y="556.20" font-size="7" text-anchor="middle" fill="#3a3a3a" stroke="#fff" stroke-width="1.2" paint-order="stroke" stroke-opacity="0.7">3</text>
<path d="M522.00 546.20V561.20" stroke="#fff" stroke-opacity="0.6" stroke-width="0.5"/>
<text x="522.00" y="556.20" font-size="7" text-anchor="middle" fill="#3a3a3a" stroke="#fff" stroke-width="1.2" paint-order="stroke" stroke-opacity="0.7">5</text>
<path d="M539.15 546.20V561.20" stroke="#fff" stroke-opacity="0.6" stroke-width="0.5"/>
<text x="539.15" y="556.20" font-size="7" text-anchor="middle" fill="#3a3a3a" stroke="#fff" stroke-width="1.2" paint-order="stroke" stroke-opacity="0.7">1</text>
<path d="M556.30 546.20V561.20" stroke="#fff" stroke-opacity="0.6" stroke-width="0.5"/>
<text x="556.30" y="556.20" font-size="7" text-anchor="middle" fill="#3a3a3a" stroke="#fff" stroke-width="1.2" paint-order="stroke" stroke-opacity="0.7">2</text>
<path d="M556.30 563.35V578.35" stroke="#fff" stroke-opacity="0.6" stroke-width="0.5"/>
<text x="556.30" y="573.35" font-size="7" text-anchor="middle" fill="#3a3a3a" stroke="#fff" stroke-width="1.2" paint-order="stroke" stroke-opacity="0.7">4</text>
<path d="M556.30 580.50V595.50" stroke="#fff" stroke-opacity="0.6" stroke-width="0.5"/>
<text x="556.30" y="590.50" font-size="7" text-anchor="middle" fill="#3a3a3a" stroke="#fff" stroke-width="1.2" paint-order="stroke" stroke-opacity="0.7">6</text>
<path d="M556.30 649.10V664.10" stroke="#fff" stroke-opacity="0.6" stroke-width="0.5"/>
<text x="556.30" y="659.10" font-size="7" text-anchor="middle" fill="#3a3a3a" stroke="#fff" stroke-width="1.2" paint-order="stroke" stroke-opacity="0.7">10</text>
<path d="M556.30 597.65V612.65" stroke="#fff" stroke-opacity="0.6" stroke-width="0.5"/>
<text x="556.30" y="607.65" font-size="7" text-anchor="middle" fill="#3a3a3a" stroke="#fff" stroke-width="1.2" paint-order="stroke" stroke-opacity="0.7">7</text>
<path d="M573.45 614.80V629.80" stroke="#fff" stroke-opacity="0.6" stroke-width="0.5"/>
<text x="573.45" y="624.80" font-size="7" text-anchor="middle" fill="#3a3a3a" stroke="#fff" stroke-width="1.2" paint-order="stroke" stroke-opacity="0.7">8</text>
<path d="M573.45 631.95V646.95" stroke="#fff" stroke-opacity="0.6" stroke-width="0.5"/>
<text x="573.45" y="641.95" font-size="7" text-anchor="middle" fill="#3a3a3a" stroke="#fff" stroke-width="1.2" paint-order="stroke" stroke-opacity="0.7">9</text>
<defs><linearGradient id="gl" x1="0" y1="0" x2="0" y2="1"><stop offset="0" stop-color="#1c3278"/><stop offset="0.5" stop-color="#7f8dbb"/><stop offset="1" stop-color="#e9f0f8"/></linearGradient><linearGradient id="gr" x1="0" y1="0" x2="0" y2="1"><stop offset="0" stop-color="#a50f15"/><stop offset="0.5" stop-color="#e2705c"/><stop offset="1" stop-color="#fde0d4"/></linearGradient></defs>
<text x="599.80" y="545.30" font-size="7.6">Scaled pval</text>
<text x="599.80" y="553.85" font-size="7.6">adapted</text>
<text x="599.80" y="562.40" font-size="7.6">(ligand)</text>
<text x="645.90" y="545.30" font-size="7.6">Scaled pval</text>
<text x="645.90" y="553.85" font-size="7.6">adapted</text>
<text x="645.90" y="562.40" font-size="7.6">(receptor)</text>
<rect x="599.80" y="568.90" width="6.20" height="28.40" fill="url(#gl)" />
<rect x="646.40" y="568.90" width="6.20" height="28.40" fill="url(#gr)" />
<path d="M599.8 572.1h1.3M606 572.1h-1.3" stroke="#fff" stroke-width="0.5"/>
<text x="610.70" y="574.60" font-size="7">0.95</text>
<path d="M599.8 584.4h1.3M606 584.4h-1.3" stroke="#fff" stroke-width="0.5"/>
<text x="610.70" y="586.90" font-size="7">0.85</text>
<path d="M599.8 596.6h1.3M606 596.6h-1.3" stroke="#fff" stroke-width="0.5"/>
<text x="610.70" y="599.10" font-size="7">0.75</text>
<path d="M646.4 573.3h1.3M652.6 573.3h-1.3" stroke="#fff" stroke-width="0.5"/>
<text x="657.30" y="575.80" font-size="7">0.8</text>
<path d="M646.4 587.2h1.3M652.6 587.2h-1.3" stroke="#fff" stroke-width="0.5"/>
<text x="657.30" y="589.70" font-size="7">0.7</text>
<text x="634.40" y="620.20" font-size="8.8" text-anchor="middle">Scaled mean</text>
<text x="634.40" y="630.20" font-size="8.8" text-anchor="middle">expression</text>
<path d="M600.7 635H669.1V652.1H600.7ZM617.8 635V652.1M634.9 635V652.1M652 635V652.1" fill="none" stroke="#e3e3e3" stroke-width="0.6"/>
<path d="M608.80 638.90A4.7 4.7 0 0 0 608.80 648.30Z" fill="#000"/>
<text x="612.40" y="657.50" font-size="7" text-anchor="end" transform="rotate(-45.00 612.40 657.50)">0.25</text>
<path d="M625.90 637.50A6.1 6.1 0 0 0 625.90 649.70Z" fill="#000"/>
<text x="629.50" y="657.50" font-size="7" text-anchor="end" transform="rotate(-45.00 629.50 657.50)">0.5</text>
<path d="M642.90 636.10A7.5 7.5 0 0 0 642.90 651.10Z" fill="#000"/>
<text x="646.60" y="657.50" font-size="7" text-anchor="end" transform="rotate(-45.00 646.60 657.50)">0.75</text>
<path d="M660.50 635.20A8.4 8.4 0 0 0 660.50 652.00Z" fill="#000"/>
<text x="662.20" y="657.50" font-size="7" text-anchor="end" transform="rotate(-45.00 662.20 657.50)">1</text>
</g>
</svg>
</body></html>
